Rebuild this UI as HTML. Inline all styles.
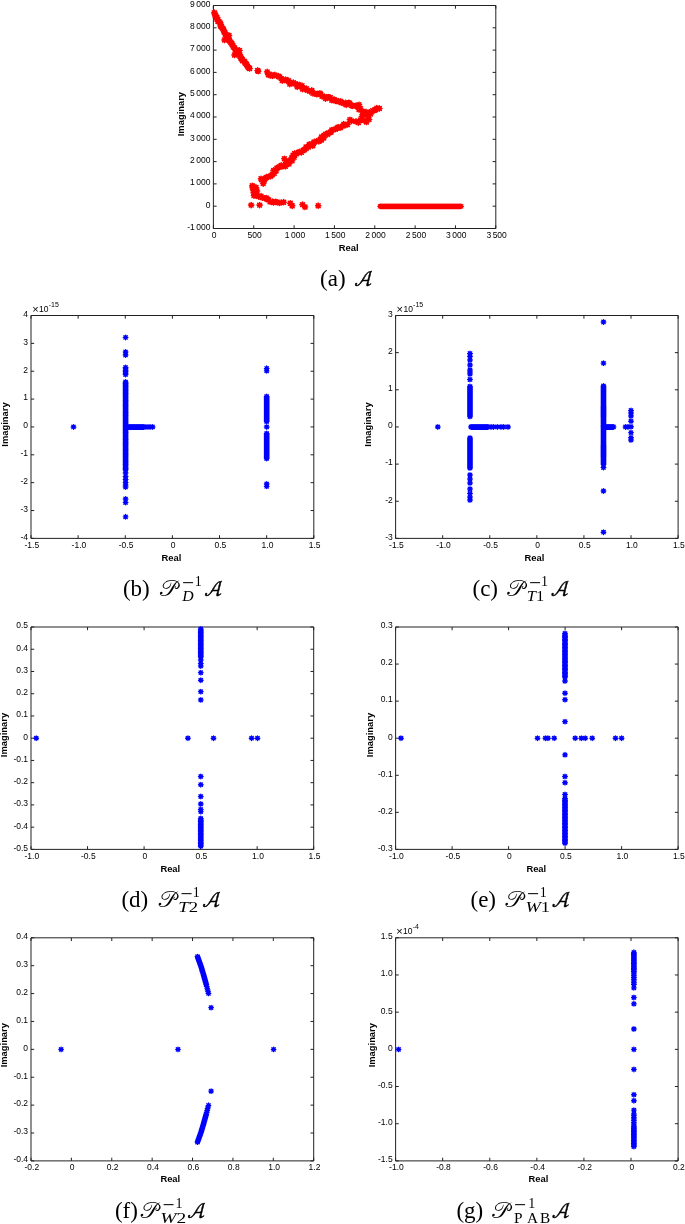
<!DOCTYPE html>
<html><head><meta charset="utf-8"><title>Eigenvalue plots</title>
<style>
html,body{margin:0;padding:0;background:#fff}
body{width:685px;height:1224px;overflow:hidden}
svg{display:block}
.t{font-family:"Liberation Sans",Arial,sans-serif;font-size:8.5px;fill:#000}
.t .sup{font-size:6.6px}
.lb{font-family:"Liberation Sans",Arial,sans-serif;font-size:9.4px;font-weight:bold;fill:#000}
.cap{font-family:"Liberation Serif",serif;font-size:22px;fill:#000}
.sm{font-size:15.5px}
</style></head><body>
<svg width="685" height="1224" viewBox="0 0 685 1224">
<defs><filter id="gb" x="0" y="0" width="100%" height="100%" filterUnits="userSpaceOnUse"><feGaussianBlur stdDeviation="0.3"/></filter></defs>
<rect width="685" height="1224" fill="#fff"/>
<g filter="url(#gb)">
<path d="M213.4 5.5H495.8V228.5H213.4Z" fill="none" stroke="#222" stroke-width="1"/>
<path d="M213.4 228.5v-3.2 M213.4 5.5v3.2 M253.74 228.5v-3.2 M253.74 5.5v3.2 M294.09 228.5v-3.2 M294.09 5.5v3.2 M334.43 228.5v-3.2 M334.43 5.5v3.2 M374.77 228.5v-3.2 M374.77 5.5v3.2 M415.11 228.5v-3.2 M415.11 5.5v3.2 M455.46 228.5v-3.2 M455.46 5.5v3.2 M495.8 228.5v-3.2 M495.8 5.5v3.2 M213.4 5.5h3.2 M495.8 5.5h-3.2 M213.4 27.8h3.2 M495.8 27.8h-3.2 M213.4 50.1h3.2 M495.8 50.1h-3.2 M213.4 72.4h3.2 M495.8 72.4h-3.2 M213.4 94.7h3.2 M495.8 94.7h-3.2 M213.4 117h3.2 M495.8 117h-3.2 M213.4 139.3h3.2 M495.8 139.3h-3.2 M213.4 161.6h3.2 M495.8 161.6h-3.2 M213.4 183.9h3.2 M495.8 183.9h-3.2 M213.4 206.2h3.2 M495.8 206.2h-3.2 M213.4 228.5h3.2 M495.8 228.5h-3.2 " stroke="#222" stroke-width="1" fill="none"/>
<text class="t" transform="translate(214.2 238.1) scale(1 1)" text-anchor="middle">0</text>
<text class="t" transform="translate(254.54 238.1) scale(1 1)" text-anchor="middle">500</text>
<text class="t" transform="translate(294.89 238.1) scale(1 1)" text-anchor="middle">1<tspan dx="1.5">000</tspan></text>
<text class="t" transform="translate(335.23 238.1) scale(1 1)" text-anchor="middle">1<tspan dx="1.5">500</tspan></text>
<text class="t" transform="translate(375.57 238.1) scale(1 1)" text-anchor="middle">2<tspan dx="1.5">000</tspan></text>
<text class="t" transform="translate(415.91 238.1) scale(1 1)" text-anchor="middle">2<tspan dx="1.5">500</tspan></text>
<text class="t" transform="translate(456.26 238.1) scale(1 1)" text-anchor="middle">3<tspan dx="1.5">000</tspan></text>
<text class="t" transform="translate(496.6 238.1) scale(1 1)" text-anchor="middle">3<tspan dx="1.5">500</tspan></text>
<text class="t" transform="translate(210.5 6.85) scale(1 1)" text-anchor="end">9<tspan dx="1.5">000</tspan></text>
<text class="t" transform="translate(210.5 29.15) scale(1 1)" text-anchor="end">8<tspan dx="1.5">000</tspan></text>
<text class="t" transform="translate(210.5 51.45) scale(1 1)" text-anchor="end">7<tspan dx="1.5">000</tspan></text>
<text class="t" transform="translate(210.5 73.75) scale(1 1)" text-anchor="end">6<tspan dx="1.5">000</tspan></text>
<text class="t" transform="translate(210.5 96.05) scale(1 1)" text-anchor="end">5<tspan dx="1.5">000</tspan></text>
<text class="t" transform="translate(210.5 118.35) scale(1 1)" text-anchor="end">4<tspan dx="1.5">000</tspan></text>
<text class="t" transform="translate(210.5 140.65) scale(1 1)" text-anchor="end">3<tspan dx="1.5">000</tspan></text>
<text class="t" transform="translate(210.5 162.95) scale(1 1)" text-anchor="end">2<tspan dx="1.5">000</tspan></text>
<text class="t" transform="translate(210.5 185.25) scale(1 1)" text-anchor="end">1<tspan dx="1.5">000</tspan></text>
<text class="t" transform="translate(210.5 207.55) scale(1 1)" text-anchor="end">0</text>
<text class="t" transform="translate(210.5 229.85) scale(1 1)" text-anchor="end">-1<tspan dx="1.5">000</tspan></text>
<text class="lb" x="348.7" y="250.9" text-anchor="middle">Real</text>
<text class="lb" transform="translate(184 114.1) rotate(-90)" text-anchor="middle">Imaginary</text>
<path d="M211.67 12.77h5.2 M214.27 10.17v5.2 M212.4 10.89l3.74 3.74 M212.4 14.64l3.74 -3.74M212.4 13.88h5.2 M215 11.28v5.2 M213.13 12.01l3.74 3.74 M213.13 15.75l3.74 -3.74M212.53 14.98h5.2 M215.13 12.38v5.2 M213.25 13.11l3.74 3.74 M213.25 16.85l3.74 -3.74M212.73 15.77h5.2 M215.33 13.17v5.2 M213.45 13.9l3.74 3.74 M213.45 17.64l3.74 -3.74M213.32 16.69h5.2 M215.92 14.09v5.2 M214.05 14.81l3.74 3.74 M214.05 18.56l3.74 -3.74M214.32 17.42h5.2 M216.92 14.82v5.2 M215.05 15.54l3.74 3.74 M215.05 19.29l3.74 -3.74M214.14 19.11h5.2 M216.74 16.51v5.2 M214.87 17.24l3.74 3.74 M214.87 20.99l3.74 -3.74M215.34 19.46h5.2 M217.94 16.86v5.2 M216.07 17.59l3.74 3.74 M216.07 21.33l3.74 -3.74M215.23 21.24h5.2 M217.83 18.64v5.2 M215.96 19.37l3.74 3.74 M215.96 23.11l3.74 -3.74M216.45 21.78h5.2 M219.05 19.18v5.2 M217.18 19.91l3.74 3.74 M217.18 23.65l3.74 -3.74M217.55 22.85h5.2 M220.15 20.25v5.2 M218.27 20.98l3.74 3.74 M218.27 24.73l3.74 -3.74M217.73 23.98h5.2 M220.33 21.38v5.2 M218.46 22.1l3.74 3.74 M218.46 25.85l3.74 -3.74M218.25 24.46h5.2 M220.85 21.86v5.2 M218.98 22.59l3.74 3.74 M218.98 26.34l3.74 -3.74M217.96 26.05h5.2 M220.56 23.45v5.2 M218.69 24.18l3.74 3.74 M218.69 27.92l3.74 -3.74M218.74 26.87h5.2 M221.34 24.27v5.2 M219.47 24.99l3.74 3.74 M219.47 28.74l3.74 -3.74M219.67 28.06h5.2 M222.27 25.46v5.2 M220.4 26.19l3.74 3.74 M220.4 29.94l3.74 -3.74M220.54 28.82h5.2 M223.14 26.22v5.2 M221.27 26.95l3.74 3.74 M221.27 30.69l3.74 -3.74M220.79 29.63h5.2 M223.39 27.03v5.2 M221.52 27.76l3.74 3.74 M221.52 31.5l3.74 -3.74M221.33 31.16h5.2 M223.93 28.56v5.2 M222.05 29.28l3.74 3.74 M222.05 33.03l3.74 -3.74M221.59 32.05h5.2 M224.19 29.45v5.2 M222.32 30.18l3.74 3.74 M222.32 33.92l3.74 -3.74M222.58 32.93h5.2 M225.18 30.33v5.2 M223.3 31.06l3.74 3.74 M223.3 34.8l3.74 -3.74M222.8 34.42h5.2 M225.4 31.82v5.2 M223.53 32.55l3.74 3.74 M223.53 36.29l3.74 -3.74M223.34 35h5.2 M225.94 32.4v5.2 M224.07 33.13l3.74 3.74 M224.07 36.87l3.74 -3.74M223.67 36.38h5.2 M226.27 33.78v5.2 M224.4 34.51l3.74 3.74 M224.4 38.25l3.74 -3.74M225.04 37.08h5.2 M227.64 34.48v5.2 M225.77 35.21l3.74 3.74 M225.77 38.95l3.74 -3.74M226.03 38.15h5.2 M228.63 35.55v5.2 M226.76 36.28l3.74 3.74 M226.76 40.02l3.74 -3.74M225.74 39.33h5.2 M228.34 36.73v5.2 M226.46 37.46l3.74 3.74 M226.46 41.2l3.74 -3.74M226.63 40h5.2 M229.23 37.4v5.2 M227.35 38.13l3.74 3.74 M227.35 41.87l3.74 -3.74M227.06 41.11h5.2 M229.66 38.51v5.2 M227.78 39.24l3.74 3.74 M227.78 42.98l3.74 -3.74M228.15 42.54h5.2 M230.75 39.94v5.2 M228.88 40.66l3.74 3.74 M228.88 44.41l3.74 -3.74M229.19 43.45h5.2 M231.79 40.85v5.2 M229.91 41.58l3.74 3.74 M229.91 45.32l3.74 -3.74M229.48 44.59h5.2 M232.08 41.99v5.2 M230.21 42.72l3.74 3.74 M230.21 46.46l3.74 -3.74M230.31 45.35h5.2 M232.91 42.75v5.2 M231.04 43.48l3.74 3.74 M231.04 47.22l3.74 -3.74M230.61 46.86h5.2 M233.21 44.26v5.2 M231.34 44.99l3.74 3.74 M231.34 48.73l3.74 -3.74M231.49 47.35h5.2 M234.09 44.75v5.2 M232.22 45.48l3.74 3.74 M232.22 49.23l3.74 -3.74M232 48.1h5.2 M234.6 45.5v5.2 M232.73 46.22l3.74 3.74 M232.73 49.97l3.74 -3.74M232.66 49.62h5.2 M235.26 47.02v5.2 M233.39 47.75l3.74 3.74 M233.39 51.49l3.74 -3.74M234.25 50.05h5.2 M236.85 47.45v5.2 M234.98 48.18l3.74 3.74 M234.98 51.93l3.74 -3.74M234.36 51.06h5.2 M236.96 48.46v5.2 M235.09 49.19l3.74 3.74 M235.09 52.93l3.74 -3.74M235.06 51.65h5.2 M237.66 49.05v5.2 M235.79 49.78l3.74 3.74 M235.79 53.52l3.74 -3.74M236.1 52.43h5.2 M238.7 49.83v5.2 M236.83 50.56l3.74 3.74 M236.83 54.3l3.74 -3.74M235.87 53.79h5.2 M238.47 51.19v5.2 M236.59 51.92l3.74 3.74 M236.59 55.67l3.74 -3.74M237.09 54.4h5.2 M239.69 51.8v5.2 M237.82 52.53l3.74 3.74 M237.82 56.28l3.74 -3.74M237.02 55.96h5.2 M239.62 53.36v5.2 M237.75 54.09l3.74 3.74 M237.75 57.83l3.74 -3.74M237.99 56.42h5.2 M240.59 53.82v5.2 M238.72 54.55l3.74 3.74 M238.72 58.3l3.74 -3.74M238.22 57.96h5.2 M240.82 55.36v5.2 M238.95 56.09l3.74 3.74 M238.95 59.83l3.74 -3.74M238.92 59.05h5.2 M241.52 56.45v5.2 M239.64 57.18l3.74 3.74 M239.64 60.92l3.74 -3.74M239.84 59.36h5.2 M242.44 56.76v5.2 M240.57 57.49l3.74 3.74 M240.57 61.23l3.74 -3.74M239.92 60.77h5.2 M242.52 58.17v5.2 M240.65 58.89l3.74 3.74 M240.65 62.64l3.74 -3.74M241.71 61.32h5.2 M244.31 58.72v5.2 M242.44 59.45l3.74 3.74 M242.44 63.19l3.74 -3.74M242.01 61.87h5.2 M244.61 59.27v5.2 M242.74 59.99l3.74 3.74 M242.74 63.74l3.74 -3.74M242.5 63.01h5.2 M245.1 60.41v5.2 M243.23 61.14l3.74 3.74 M243.23 64.88l3.74 -3.74M243.63 63.89h5.2 M246.23 61.29v5.2 M244.36 62.02l3.74 3.74 M244.36 65.76l3.74 -3.74M243.94 64.61h5.2 M246.54 62.01v5.2 M244.66 62.74l3.74 3.74 M244.66 66.48l3.74 -3.74M244.67 65.82h5.2 M247.27 63.22v5.2 M245.4 63.95l3.74 3.74 M245.4 67.69l3.74 -3.74M245.53 67.13h5.2 M248.13 64.53v5.2 M246.25 65.26l3.74 3.74 M246.25 69.01l3.74 -3.74M246.15 67.72h5.2 M248.75 65.12v5.2 M246.87 65.85l3.74 3.74 M246.87 69.6l3.74 -3.74M247 68.5h5.2 M249.6 65.9v5.2 M247.73 66.63l3.74 3.74 M247.73 70.37l3.74 -3.74M221.9 40h5.2 M224.5 37.4v5.2 M222.63 38.13l3.74 3.74 M222.63 41.87l3.74 -3.74M223.4 39h5.2 M226 36.4v5.2 M224.13 37.13l3.74 3.74 M224.13 40.87l3.74 -3.74M226.4 35.5h5.2 M229 32.9v5.2 M227.13 33.63l3.74 3.74 M227.13 37.37l3.74 -3.74M231.9 55h5.2 M234.5 52.4v5.2 M232.63 53.13l3.74 3.74 M232.63 56.87l3.74 -3.74M233.4 54h5.2 M236 51.4v5.2 M234.13 52.13l3.74 3.74 M234.13 55.87l3.74 -3.74M236.9 50.5h5.2 M239.5 47.9v5.2 M237.63 48.63l3.74 3.74 M237.63 52.37l3.74 -3.74M255.6 71.2h5.2 M258.2 68.6v5.2 M256.33 69.33l3.74 3.74 M256.33 73.07l3.74 -3.74M255 70.5h5.2 M257.6 67.9v5.2 M255.73 68.63l3.74 3.74 M255.73 72.37l3.74 -3.74M264.61 71.85h5.2 M267.21 69.25v5.2 M265.34 69.98l3.74 3.74 M265.34 73.72l3.74 -3.74M265.74 74.7h5.2 M268.34 72.1v5.2 M266.47 72.83l3.74 3.74 M266.47 76.57l3.74 -3.74M267.45 75.47h5.2 M270.05 72.87v5.2 M268.17 73.6l3.74 3.74 M268.17 77.34l3.74 -3.74M269 74.78h5.2 M271.6 72.18v5.2 M269.73 72.91l3.74 3.74 M269.73 76.65l3.74 -3.74M270.08 75.93h5.2 M272.68 73.33v5.2 M270.81 74.06l3.74 3.74 M270.81 77.81l3.74 -3.74M272.24 74.93h5.2 M274.84 72.33v5.2 M272.96 73.06l3.74 3.74 M272.96 76.8l3.74 -3.74M273.88 75.85h5.2 M276.48 73.25v5.2 M274.6 73.97l3.74 3.74 M274.6 77.72l3.74 -3.74M275.76 76.19h5.2 M278.36 73.59v5.2 M276.49 74.32l3.74 3.74 M276.49 78.07l3.74 -3.74M277.03 77.06h5.2 M279.63 74.46v5.2 M277.76 75.18l3.74 3.74 M277.76 78.93l3.74 -3.74M278.62 78.43h5.2 M281.22 75.83v5.2 M279.35 76.55l3.74 3.74 M279.35 80.3l3.74 -3.74M279.69 80.54h5.2 M282.29 77.94v5.2 M280.41 78.67l3.74 3.74 M280.41 82.41l3.74 -3.74M282.89 79.54h5.2 M285.49 76.94v5.2 M283.62 77.67l3.74 3.74 M283.62 81.41l3.74 -3.74M284.02 80.68h5.2 M286.62 78.08v5.2 M284.75 78.8l3.74 3.74 M284.75 82.55l3.74 -3.74M286.04 80.75h5.2 M288.64 78.15v5.2 M286.77 78.88l3.74 3.74 M286.77 82.63l3.74 -3.74M287.22 84.03h5.2 M289.82 81.43v5.2 M287.95 82.16l3.74 3.74 M287.95 85.9l3.74 -3.74M289.06 83.12h5.2 M291.66 80.52v5.2 M289.79 81.25l3.74 3.74 M289.79 84.99l3.74 -3.74M290.77 82.57h5.2 M293.37 79.97v5.2 M291.5 80.7l3.74 3.74 M291.5 84.44l3.74 -3.74M292.51 83.78h5.2 M295.11 81.18v5.2 M293.24 81.91l3.74 3.74 M293.24 85.66l3.74 -3.74M294.69 84.32h5.2 M297.29 81.72v5.2 M295.42 82.45l3.74 3.74 M295.42 86.2l3.74 -3.74M294.64 86.85h5.2 M297.24 84.25v5.2 M295.37 84.98l3.74 3.74 M295.37 88.73l3.74 -3.74M297.62 85.45h5.2 M300.22 82.85v5.2 M298.35 83.57l3.74 3.74 M298.35 87.32l3.74 -3.74M299.37 85.76h5.2 M301.97 83.16v5.2 M300.1 83.89l3.74 3.74 M300.1 87.63l3.74 -3.74M299.9 89.04h5.2 M302.5 86.44v5.2 M300.62 87.17l3.74 3.74 M300.62 90.92l3.74 -3.74M302.31 89.1h5.2 M304.91 86.5v5.2 M303.04 87.23l3.74 3.74 M303.04 90.97l3.74 -3.74M303.8 88.63h5.2 M306.4 86.03v5.2 M304.53 86.76l3.74 3.74 M304.53 90.5l3.74 -3.74M305 90.42h5.2 M307.6 87.82v5.2 M305.73 88.55l3.74 3.74 M305.73 92.29l3.74 -3.74M307.1 91.28h5.2 M309.7 88.68v5.2 M307.82 89.41l3.74 3.74 M307.82 93.15l3.74 -3.74M309.17 90.37h5.2 M311.77 87.77v5.2 M309.9 88.5l3.74 3.74 M309.9 92.24l3.74 -3.74M310.32 93.36h5.2 M312.92 90.76v5.2 M311.04 91.49l3.74 3.74 M311.04 95.24l3.74 -3.74M312.17 93.59h5.2 M314.77 90.99v5.2 M312.9 91.72l3.74 3.74 M312.9 95.46l3.74 -3.74M313.82 94.09h5.2 M316.42 91.49v5.2 M314.55 92.22l3.74 3.74 M314.55 95.96l3.74 -3.74M315.13 93.94h5.2 M317.73 91.34v5.2 M315.86 92.07l3.74 3.74 M315.86 95.81l3.74 -3.74M317.33 93.3h5.2 M319.93 90.7v5.2 M318.06 91.43l3.74 3.74 M318.06 95.17l3.74 -3.74M318.24 94.51h5.2 M320.84 91.91v5.2 M318.97 92.64l3.74 3.74 M318.97 96.38l3.74 -3.74M319.45 96.39h5.2 M322.05 93.79v5.2 M320.18 94.51l3.74 3.74 M320.18 98.26l3.74 -3.74M321.88 96.58h5.2 M324.48 93.98v5.2 M322.61 94.71l3.74 3.74 M322.61 98.45l3.74 -3.74M323 98.61h5.2 M325.6 96.01v5.2 M323.73 96.74l3.74 3.74 M323.73 100.48l3.74 -3.74M325.15 97.3h5.2 M327.75 94.7v5.2 M325.88 95.43l3.74 3.74 M325.88 99.17l3.74 -3.74M326.17 97.17h5.2 M328.77 94.57v5.2 M326.9 95.3l3.74 3.74 M326.9 99.05l3.74 -3.74M327.76 97.58h5.2 M330.36 94.98v5.2 M328.49 95.71l3.74 3.74 M328.49 99.46l3.74 -3.74M329.21 100.19h5.2 M331.81 97.59v5.2 M329.94 98.32l3.74 3.74 M329.94 102.07l3.74 -3.74M331.46 99.49h5.2 M334.06 96.89v5.2 M332.19 97.62l3.74 3.74 M332.19 101.37l3.74 -3.74M332.72 100.83h5.2 M335.32 98.23v5.2 M333.45 98.96l3.74 3.74 M333.45 102.7l3.74 -3.74M333.95 100.73h5.2 M336.55 98.13v5.2 M334.68 98.86l3.74 3.74 M334.68 102.6l3.74 -3.74M336.4 101.77h5.2 M339 99.17v5.2 M337.12 99.9l3.74 3.74 M337.12 103.64l3.74 -3.74M338.15 101.32h5.2 M340.75 98.72v5.2 M338.88 99.45l3.74 3.74 M338.88 103.19l3.74 -3.74M338.84 102.56h5.2 M341.44 99.96v5.2 M339.56 100.69l3.74 3.74 M339.56 104.43l3.74 -3.74M340.49 103.19h5.2 M343.09 100.59v5.2 M341.22 101.32l3.74 3.74 M341.22 105.07l3.74 -3.74M343.01 102.81h5.2 M345.61 100.21v5.2 M343.74 100.94l3.74 3.74 M343.74 104.68l3.74 -3.74M343.62 104.79h5.2 M346.22 102.19v5.2 M344.35 102.92l3.74 3.74 M344.35 106.66l3.74 -3.74M346.05 102.93h5.2 M348.65 100.33v5.2 M346.78 101.06l3.74 3.74 M346.78 104.8l3.74 -3.74M347.11 103.1h5.2 M349.71 100.5v5.2 M347.83 101.23l3.74 3.74 M347.83 104.97l3.74 -3.74M349.08 105.53h5.2 M351.68 102.93v5.2 M349.8 103.66l3.74 3.74 M349.8 107.41l3.74 -3.74M349.89 105.76h5.2 M352.49 103.16v5.2 M350.62 103.89l3.74 3.74 M350.62 107.63l3.74 -3.74M352.66 105.92h5.2 M355.26 103.32v5.2 M353.39 104.04l3.74 3.74 M353.39 107.79l3.74 -3.74M353.84 105.87h5.2 M356.44 103.27v5.2 M354.57 104l3.74 3.74 M354.57 107.74l3.74 -3.74M356.4 104.78h5.2 M359 102.18v5.2 M357.12 102.91l3.74 3.74 M357.12 106.66l3.74 -3.74M357.62 108.4h5.2 M360.22 105.8v5.2 M358.35 106.52l3.74 3.74 M358.35 110.27l3.74 -3.74M358.25 110.09h5.2 M360.85 107.49v5.2 M358.98 108.21l3.74 3.74 M358.98 111.96l3.74 -3.74M359.93 111.37h5.2 M362.53 108.77v5.2 M360.66 109.49l3.74 3.74 M360.66 113.24l3.74 -3.74M363.38 112.02h5.2 M365.98 109.42v5.2 M364.11 110.15l3.74 3.74 M364.11 113.89l3.74 -3.74M363.7 114.1h5.2 M366.3 111.5v5.2 M364.43 112.23l3.74 3.74 M364.43 115.97l3.74 -3.74M363.29 113.94h5.2 M365.89 111.34v5.2 M364.02 112.07l3.74 3.74 M364.02 115.81l3.74 -3.74M365.23 113.46h5.2 M367.83 110.86v5.2 M365.96 111.59l3.74 3.74 M365.96 115.33l3.74 -3.74M366.86 112.31h5.2 M369.46 109.71v5.2 M367.58 110.44l3.74 3.74 M367.58 114.19l3.74 -3.74M368.95 112.14h5.2 M371.55 109.54v5.2 M369.68 110.27l3.74 3.74 M369.68 114.01l3.74 -3.74M370.07 110.59h5.2 M372.67 107.99v5.2 M370.8 108.72l3.74 3.74 M370.8 112.46l3.74 -3.74M371.96 110.26h5.2 M374.56 107.66v5.2 M372.69 108.39l3.74 3.74 M372.69 112.13l3.74 -3.74M373.17 109.53h5.2 M375.77 106.93v5.2 M373.89 107.66l3.74 3.74 M373.89 111.4l3.74 -3.74M374.19 108.15h5.2 M376.79 105.55v5.2 M374.92 106.28l3.74 3.74 M374.92 110.02l3.74 -3.74M376.8 108.5h5.2 M379.4 105.9v5.2 M377.53 106.63l3.74 3.74 M377.53 110.37l3.74 -3.74M359.4 116.5h5.2 M362 113.9v5.2 M360.13 114.63l3.74 3.74 M360.13 118.37l3.74 -3.74M357.9 120h5.2 M360.5 117.4v5.2 M358.63 118.13l3.74 3.74 M358.63 121.87l3.74 -3.74M361.4 120.5h5.2 M364 117.9v5.2 M362.13 118.63l3.74 3.74 M362.13 122.37l3.74 -3.74M363.9 122h5.2 M366.5 119.4v5.2 M364.63 120.13l3.74 3.74 M364.63 123.87l3.74 -3.74M355.8 122.6h5.2 M358.4 120v5.2 M356.53 120.73l3.74 3.74 M356.53 124.47l3.74 -3.74M353.4 121.5h5.2 M356 118.9v5.2 M354.13 119.63l3.74 3.74 M354.13 123.37l3.74 -3.74M365.4 117h5.2 M368 114.4v5.2 M366.13 115.13l3.74 3.74 M366.13 118.87l3.74 -3.74M367.9 114h5.2 M370.5 111.4v5.2 M368.63 112.13l3.74 3.74 M368.63 115.87l3.74 -3.74M360.4 112h5.2 M363 109.4v5.2 M361.13 110.13l3.74 3.74 M361.13 113.87l3.74 -3.74M356.4 109.5h5.2 M359 106.9v5.2 M357.13 107.63l3.74 3.74 M357.13 111.37l3.74 -3.74M366.4 119.5h5.2 M369 116.9v5.2 M367.13 117.63l3.74 3.74 M367.13 121.37l3.74 -3.74M347.3 119.8h5.2 M349.9 117.2v5.2 M348.03 117.93l3.74 3.74 M348.03 121.67l3.74 -3.74M348.9 121h5.2 M351.5 118.4v5.2 M349.63 119.13l3.74 3.74 M349.63 122.87l3.74 -3.74M344.9 124.45h5.2 M347.5 121.85v5.2 M345.63 122.58l3.74 3.74 M345.63 126.32l3.74 -3.74M343.3 124.98h5.2 M345.9 122.38v5.2 M344.03 123.11l3.74 3.74 M344.03 126.85l3.74 -3.74M341.16 124.15h5.2 M343.76 121.55v5.2 M341.88 122.27l3.74 3.74 M341.88 126.02l3.74 -3.74M340.3 125.97h5.2 M342.9 123.37v5.2 M341.03 124.09l3.74 3.74 M341.03 127.84l3.74 -3.74M338.42 126.9h5.2 M341.02 124.3v5.2 M339.15 125.03l3.74 3.74 M339.15 128.77l3.74 -3.74M337.57 127.71h5.2 M340.17 125.11v5.2 M338.3 125.84l3.74 3.74 M338.3 129.58l3.74 -3.74M335.44 127.25h5.2 M338.04 124.65v5.2 M336.17 125.38l3.74 3.74 M336.17 129.12l3.74 -3.74M334.31 128.2h5.2 M336.91 125.6v5.2 M335.03 126.33l3.74 3.74 M335.03 130.07l3.74 -3.74M332.82 129.22h5.2 M335.42 126.62v5.2 M333.55 127.35l3.74 3.74 M333.55 131.09l3.74 -3.74M330.79 129.87h5.2 M333.39 127.27v5.2 M331.52 127.99l3.74 3.74 M331.52 131.74l3.74 -3.74M329.24 130.04h5.2 M331.84 127.44v5.2 M329.97 128.17l3.74 3.74 M329.97 131.92l3.74 -3.74M328.41 131.97h5.2 M331.01 129.37v5.2 M329.14 130.1l3.74 3.74 M329.14 133.85l3.74 -3.74M327.31 132.58h5.2 M329.91 129.98v5.2 M328.04 130.71l3.74 3.74 M328.04 134.45l3.74 -3.74M325.81 132.99h5.2 M328.41 130.39v5.2 M326.54 131.11l3.74 3.74 M326.54 134.86l3.74 -3.74M324.98 134.29h5.2 M327.58 131.69v5.2 M325.7 132.41l3.74 3.74 M325.7 136.16l3.74 -3.74M322.89 134.15h5.2 M325.49 131.55v5.2 M323.62 132.28l3.74 3.74 M323.62 136.02l3.74 -3.74M321.51 135.36h5.2 M324.11 132.76v5.2 M322.24 133.49l3.74 3.74 M322.24 137.23l3.74 -3.74M321.13 138.04h5.2 M323.73 135.44v5.2 M321.86 136.16l3.74 3.74 M321.86 139.91l3.74 -3.74M318.86 136.95h5.2 M321.46 134.35v5.2 M319.59 135.08l3.74 3.74 M319.59 138.82l3.74 -3.74M318.74 140.17h5.2 M321.34 137.57v5.2 M319.47 138.3l3.74 3.74 M319.47 142.04l3.74 -3.74M317.36 139.91h5.2 M319.96 137.31v5.2 M318.09 138.04l3.74 3.74 M318.09 141.78l3.74 -3.74M316.28 141.4h5.2 M318.88 138.8v5.2 M317.01 139.53l3.74 3.74 M317.01 143.27l3.74 -3.74M314.04 141.24h5.2 M316.64 138.64v5.2 M314.77 139.36l3.74 3.74 M314.77 143.11l3.74 -3.74M311.53 142.03h5.2 M314.13 139.43v5.2 M312.25 140.16l3.74 3.74 M312.25 143.9l3.74 -3.74M310.92 143.14h5.2 M313.52 140.54v5.2 M311.65 141.27l3.74 3.74 M311.65 145.02l3.74 -3.74M310.13 145.73h5.2 M312.73 143.13v5.2 M310.86 143.86l3.74 3.74 M310.86 147.6l3.74 -3.74M307.31 144.32h5.2 M309.91 141.72v5.2 M308.04 142.44l3.74 3.74 M308.04 146.19l3.74 -3.74M306.54 144.82h5.2 M309.14 142.22v5.2 M307.27 142.95l3.74 3.74 M307.27 146.69l3.74 -3.74M305.83 146.96h5.2 M308.43 144.36v5.2 M306.56 145.08l3.74 3.74 M306.56 148.83l3.74 -3.74M303.49 147.04h5.2 M306.09 144.44v5.2 M304.22 145.17l3.74 3.74 M304.22 148.91l3.74 -3.74M303.52 148.53h5.2 M306.12 145.93v5.2 M304.25 146.66l3.74 3.74 M304.25 150.41l3.74 -3.74M301.74 149.77h5.2 M304.34 147.17v5.2 M302.47 147.89l3.74 3.74 M302.47 151.64l3.74 -3.74M300.49 150.47h5.2 M303.09 147.87v5.2 M301.22 148.6l3.74 3.74 M301.22 152.34l3.74 -3.74M298.84 152.38h5.2 M301.44 149.78v5.2 M299.57 150.51l3.74 3.74 M299.57 154.25l3.74 -3.74M296.81 151.9h5.2 M299.41 149.3v5.2 M297.54 150.02l3.74 3.74 M297.54 153.77l3.74 -3.74M295.92 152.53h5.2 M298.52 149.93v5.2 M296.65 150.65l3.74 3.74 M296.65 154.4l3.74 -3.74M293.94 153.76h5.2 M296.54 151.16v5.2 M294.66 151.89l3.74 3.74 M294.66 155.63l3.74 -3.74M292.08 153.51h5.2 M294.68 150.91v5.2 M292.81 151.64l3.74 3.74 M292.81 155.38l3.74 -3.74M290.46 155.26h5.2 M293.06 152.66v5.2 M291.19 153.39l3.74 3.74 M291.19 157.14l3.74 -3.74M291.46 157.41h5.2 M294.06 154.81v5.2 M292.19 155.54l3.74 3.74 M292.19 159.28l3.74 -3.74M289.09 157.81h5.2 M291.69 155.21v5.2 M289.82 155.94l3.74 3.74 M289.82 159.68l3.74 -3.74M289.5 160.72h5.2 M292.1 158.12v5.2 M290.22 158.84l3.74 3.74 M290.22 162.59l3.74 -3.74M286.3 160.79h5.2 M288.9 158.19v5.2 M287.03 158.91l3.74 3.74 M287.03 162.66l3.74 -3.74M286.27 163.93h5.2 M288.87 161.33v5.2 M287 162.06l3.74 3.74 M287 165.8l3.74 -3.74M284.44 162.49h5.2 M287.04 159.89v5.2 M285.17 160.62l3.74 3.74 M285.17 164.36l3.74 -3.74M282.93 164.04h5.2 M285.53 161.44v5.2 M283.66 162.17l3.74 3.74 M283.66 165.91l3.74 -3.74M282.82 166.4h5.2 M285.42 163.8v5.2 M283.55 164.53l3.74 3.74 M283.55 168.27l3.74 -3.74M280.3 166.36h5.2 M282.9 163.76v5.2 M281.03 164.48l3.74 3.74 M281.03 168.23l3.74 -3.74M278.53 165.38h5.2 M281.13 162.78v5.2 M279.26 163.51l3.74 3.74 M279.26 167.25l3.74 -3.74M276.82 166.95h5.2 M279.42 164.35v5.2 M277.55 165.08l3.74 3.74 M277.55 168.82l3.74 -3.74M275.76 167.41h5.2 M278.36 164.81v5.2 M276.49 165.53l3.74 3.74 M276.49 169.28l3.74 -3.74M274.31 168.28h5.2 M276.91 165.68v5.2 M275.04 166.41l3.74 3.74 M275.04 170.15l3.74 -3.74M273.47 170.76h5.2 M276.07 168.16v5.2 M274.2 168.89l3.74 3.74 M274.2 172.63l3.74 -3.74M270.99 170.42h5.2 M273.59 167.82v5.2 M271.72 168.55l3.74 3.74 M271.72 172.29l3.74 -3.74M271.68 173.2h5.2 M274.28 170.6v5.2 M272.41 171.32l3.74 3.74 M272.41 175.07l3.74 -3.74M270.09 174.11h5.2 M272.69 171.51v5.2 M270.82 172.24l3.74 3.74 M270.82 175.98l3.74 -3.74M269.36 175.06h5.2 M271.96 172.46v5.2 M270.09 173.19l3.74 3.74 M270.09 176.93l3.74 -3.74M267.9 176.27h5.2 M270.5 173.67v5.2 M268.63 174.4l3.74 3.74 M268.63 178.14l3.74 -3.74M266.12 176.53h5.2 M268.72 173.93v5.2 M266.84 174.66l3.74 3.74 M266.84 178.41l3.74 -3.74M264.29 177.21h5.2 M266.89 174.61v5.2 M265.02 175.34l3.74 3.74 M265.02 179.09l3.74 -3.74M263.19 177.97h5.2 M265.79 175.37v5.2 M263.91 176.1l3.74 3.74 M263.91 179.85l3.74 -3.74M262.04 178.91h5.2 M264.64 176.31v5.2 M262.76 177.04l3.74 3.74 M262.76 180.78l3.74 -3.74M260.67 179.39h5.2 M263.27 176.79v5.2 M261.4 177.52l3.74 3.74 M261.4 181.26l3.74 -3.74M258.45 178.8h5.2 M261.05 176.2v5.2 M259.17 176.93l3.74 3.74 M259.17 180.67l3.74 -3.74M259.14 179.85h5.2 M261.74 177.25v5.2 M259.87 177.98l3.74 3.74 M259.87 181.72l3.74 -3.74M261.25 181.86h5.2 M263.85 179.26v5.2 M261.98 179.99l3.74 3.74 M261.98 183.74l3.74 -3.74M260.6 183.6h5.2 M263.2 181v5.2 M261.33 181.73l3.74 3.74 M261.33 185.47l3.74 -3.74M281.8 158.8h5.2 M284.4 156.2v5.2 M282.53 156.93l3.74 3.74 M282.53 160.67l3.74 -3.74M249.7 185.8h5.2 M252.3 183.2v5.2 M250.43 183.93l3.74 3.74 M250.43 187.67l3.74 -3.74M250.4 188h5.2 M253 185.4v5.2 M251.13 186.13l3.74 3.74 M251.13 189.87l3.74 -3.74M253.4 187.5h5.2 M256 184.9v5.2 M254.13 185.63l3.74 3.74 M254.13 189.37l3.74 -3.74M254.4 191h5.2 M257 188.4v5.2 M255.13 189.13l3.74 3.74 M255.13 192.87l3.74 -3.74M252.9 194h5.2 M255.5 191.4v5.2 M253.63 192.13l3.74 3.74 M253.63 195.87l3.74 -3.74M249.94 186.08h5.2 M252.54 183.48v5.2 M250.67 184.21l3.74 3.74 M250.67 187.95l3.74 -3.74M249.94 187.71h5.2 M252.54 185.11v5.2 M250.67 185.83l3.74 3.74 M250.67 189.58l3.74 -3.74M251.11 189.1h5.2 M253.71 186.5v5.2 M251.84 187.22l3.74 3.74 M251.84 190.97l3.74 -3.74M251.1 191.03h5.2 M253.7 188.43v5.2 M251.83 189.15l3.74 3.74 M251.83 192.9l3.74 -3.74M251.06 192.81h5.2 M253.66 190.21v5.2 M251.79 190.94l3.74 3.74 M251.79 194.68l3.74 -3.74M251.39 195.56h5.2 M253.99 192.96v5.2 M252.11 193.69l3.74 3.74 M252.11 197.43l3.74 -3.74M252.97 195.39h5.2 M255.57 192.79v5.2 M253.69 193.52l3.74 3.74 M253.69 197.26l3.74 -3.74M254.47 195.32h5.2 M257.07 192.72v5.2 M255.2 193.45l3.74 3.74 M255.2 197.2l3.74 -3.74M256.13 196.64h5.2 M258.73 194.04v5.2 M256.86 194.77l3.74 3.74 M256.86 198.51l3.74 -3.74M258.43 196.1h5.2 M261.03 193.5v5.2 M259.16 194.23l3.74 3.74 M259.16 197.98l3.74 -3.74M259.59 197.67h5.2 M262.19 195.07v5.2 M260.32 195.79l3.74 3.74 M260.32 199.54l3.74 -3.74M262.19 198.29h5.2 M264.79 195.69v5.2 M262.92 196.42l3.74 3.74 M262.92 200.16l3.74 -3.74M263.63 198.03h5.2 M266.23 195.43v5.2 M264.35 196.16l3.74 3.74 M264.35 199.91l3.74 -3.74M264.89 199.2h5.2 M267.49 196.6v5.2 M265.62 197.33l3.74 3.74 M265.62 201.08l3.74 -3.74M266.22 199.98h5.2 M268.82 197.38v5.2 M266.94 198.11l3.74 3.74 M266.94 201.85l3.74 -3.74M267.5 201.77h5.2 M270.1 199.17v5.2 M268.23 199.9l3.74 3.74 M268.23 203.64l3.74 -3.74M270.14 201.64h5.2 M272.74 199.04v5.2 M270.87 199.76l3.74 3.74 M270.87 203.51l3.74 -3.74M271 202.49h5.2 M273.6 199.89v5.2 M271.73 200.62l3.74 3.74 M271.73 204.37l3.74 -3.74M273.02 201.91h5.2 M275.62 199.31v5.2 M273.75 200.04l3.74 3.74 M273.75 203.79l3.74 -3.74M274.45 202.25h5.2 M277.05 199.65v5.2 M275.18 200.37l3.74 3.74 M275.18 204.12l3.74 -3.74M276.67 202.91h5.2 M279.27 200.31v5.2 M277.4 201.04l3.74 3.74 M277.4 204.78l3.74 -3.74M278.51 202.62h5.2 M281.11 200.02v5.2 M279.23 200.75l3.74 3.74 M279.23 204.49l3.74 -3.74M281.1 202.2h5.2 M283.7 199.6v5.2 M281.83 200.33l3.74 3.74 M281.83 204.07l3.74 -3.74M248.6 205.1h5.2 M251.2 202.5v5.2 M249.33 203.23l3.74 3.74 M249.33 206.97l3.74 -3.74M257 205.1h5.2 M259.6 202.5v5.2 M257.73 203.23l3.74 3.74 M257.73 206.97l3.74 -3.74M287.7 203.3h5.2 M290.3 200.7v5.2 M288.43 201.43l3.74 3.74 M288.43 205.17l3.74 -3.74M289.6 205.8h5.2 M292.2 203.2v5.2 M290.33 203.93l3.74 3.74 M290.33 207.67l3.74 -3.74M299.9 204.6h5.2 M302.5 202v5.2 M300.63 202.73l3.74 3.74 M300.63 206.47l3.74 -3.74M302.4 207h5.2 M305 204.4v5.2 M303.13 205.13l3.74 3.74 M303.13 208.87l3.74 -3.74M315.6 205.7h5.2 M318.2 203.1v5.2 M316.33 203.83l3.74 3.74 M316.33 207.57l3.74 -3.74" stroke="#ff0000" stroke-width="1.6" stroke-linecap="round" fill="none"/>
<path d="M377.8 206.3h4.4 M380 204.1v4.4 M378.42 204.72l3.17 3.17 M378.42 207.88l3.17 -3.17M378.6 206.3h4.4 M380.8 204.1v4.4 M379.22 204.72l3.17 3.17 M379.22 207.88l3.17 -3.17M379.41 206.3h4.4 M381.61 204.1v4.4 M380.02 204.72l3.17 3.17 M380.02 207.88l3.17 -3.17M380.21 206.3h4.4 M382.41 204.1v4.4 M380.83 204.72l3.17 3.17 M380.83 207.88l3.17 -3.17M381.02 206.3h4.4 M383.22 204.1v4.4 M381.63 204.72l3.17 3.17 M381.63 207.88l3.17 -3.17M381.82 206.3h4.4 M384.02 204.1v4.4 M382.44 204.72l3.17 3.17 M382.44 207.88l3.17 -3.17M382.62 206.3h4.4 M384.82 204.1v4.4 M383.24 204.72l3.17 3.17 M383.24 207.88l3.17 -3.17M383.43 206.3h4.4 M385.63 204.1v4.4 M384.04 204.72l3.17 3.17 M384.04 207.88l3.17 -3.17M384.23 206.3h4.4 M386.43 204.1v4.4 M384.85 204.72l3.17 3.17 M384.85 207.88l3.17 -3.17M385.04 206.3h4.4 M387.24 204.1v4.4 M385.65 204.72l3.17 3.17 M385.65 207.88l3.17 -3.17M385.84 206.3h4.4 M388.04 204.1v4.4 M386.46 204.72l3.17 3.17 M386.46 207.88l3.17 -3.17M386.64 206.3h4.4 M388.84 204.1v4.4 M387.26 204.72l3.17 3.17 M387.26 207.88l3.17 -3.17M387.45 206.3h4.4 M389.65 204.1v4.4 M388.06 204.72l3.17 3.17 M388.06 207.88l3.17 -3.17M388.25 206.3h4.4 M390.45 204.1v4.4 M388.87 204.72l3.17 3.17 M388.87 207.88l3.17 -3.17M389.06 206.3h4.4 M391.26 204.1v4.4 M389.67 204.72l3.17 3.17 M389.67 207.88l3.17 -3.17M389.86 206.3h4.4 M392.06 204.1v4.4 M390.48 204.72l3.17 3.17 M390.48 207.88l3.17 -3.17M390.66 206.3h4.4 M392.86 204.1v4.4 M391.28 204.72l3.17 3.17 M391.28 207.88l3.17 -3.17M391.47 206.3h4.4 M393.67 204.1v4.4 M392.08 204.72l3.17 3.17 M392.08 207.88l3.17 -3.17M392.27 206.3h4.4 M394.47 204.1v4.4 M392.89 204.72l3.17 3.17 M392.89 207.88l3.17 -3.17M393.08 206.3h4.4 M395.28 204.1v4.4 M393.69 204.72l3.17 3.17 M393.69 207.88l3.17 -3.17M393.88 206.3h4.4 M396.08 204.1v4.4 M394.5 204.72l3.17 3.17 M394.5 207.88l3.17 -3.17M394.68 206.3h4.4 M396.88 204.1v4.4 M395.3 204.72l3.17 3.17 M395.3 207.88l3.17 -3.17M395.49 206.3h4.4 M397.69 204.1v4.4 M396.1 204.72l3.17 3.17 M396.1 207.88l3.17 -3.17M396.29 206.3h4.4 M398.49 204.1v4.4 M396.91 204.72l3.17 3.17 M396.91 207.88l3.17 -3.17M397.1 206.3h4.4 M399.3 204.1v4.4 M397.71 204.72l3.17 3.17 M397.71 207.88l3.17 -3.17M397.9 206.3h4.4 M400.1 204.1v4.4 M398.52 204.72l3.17 3.17 M398.52 207.88l3.17 -3.17M398.7 206.3h4.4 M400.9 204.1v4.4 M399.32 204.72l3.17 3.17 M399.32 207.88l3.17 -3.17M399.51 206.3h4.4 M401.71 204.1v4.4 M400.12 204.72l3.17 3.17 M400.12 207.88l3.17 -3.17M400.31 206.3h4.4 M402.51 204.1v4.4 M400.93 204.72l3.17 3.17 M400.93 207.88l3.17 -3.17M401.11 206.3h4.4 M403.31 204.1v4.4 M401.73 204.72l3.17 3.17 M401.73 207.88l3.17 -3.17M401.92 206.3h4.4 M404.12 204.1v4.4 M402.53 204.72l3.17 3.17 M402.53 207.88l3.17 -3.17M402.72 206.3h4.4 M404.92 204.1v4.4 M403.34 204.72l3.17 3.17 M403.34 207.88l3.17 -3.17M403.53 206.3h4.4 M405.73 204.1v4.4 M404.14 204.72l3.17 3.17 M404.14 207.88l3.17 -3.17M404.33 206.3h4.4 M406.53 204.1v4.4 M404.95 204.72l3.17 3.17 M404.95 207.88l3.17 -3.17M405.13 206.3h4.4 M407.33 204.1v4.4 M405.75 204.72l3.17 3.17 M405.75 207.88l3.17 -3.17M405.94 206.3h4.4 M408.14 204.1v4.4 M406.55 204.72l3.17 3.17 M406.55 207.88l3.17 -3.17M406.74 206.3h4.4 M408.94 204.1v4.4 M407.36 204.72l3.17 3.17 M407.36 207.88l3.17 -3.17M407.55 206.3h4.4 M409.75 204.1v4.4 M408.16 204.72l3.17 3.17 M408.16 207.88l3.17 -3.17M408.35 206.3h4.4 M410.55 204.1v4.4 M408.97 204.72l3.17 3.17 M408.97 207.88l3.17 -3.17M409.15 206.3h4.4 M411.35 204.1v4.4 M409.77 204.72l3.17 3.17 M409.77 207.88l3.17 -3.17M409.96 206.3h4.4 M412.16 204.1v4.4 M410.57 204.72l3.17 3.17 M410.57 207.88l3.17 -3.17M410.76 206.3h4.4 M412.96 204.1v4.4 M411.38 204.72l3.17 3.17 M411.38 207.88l3.17 -3.17M411.57 206.3h4.4 M413.77 204.1v4.4 M412.18 204.72l3.17 3.17 M412.18 207.88l3.17 -3.17M412.37 206.3h4.4 M414.57 204.1v4.4 M412.99 204.72l3.17 3.17 M412.99 207.88l3.17 -3.17M413.17 206.3h4.4 M415.37 204.1v4.4 M413.79 204.72l3.17 3.17 M413.79 207.88l3.17 -3.17M413.98 206.3h4.4 M416.18 204.1v4.4 M414.59 204.72l3.17 3.17 M414.59 207.88l3.17 -3.17M414.78 206.3h4.4 M416.98 204.1v4.4 M415.4 204.72l3.17 3.17 M415.4 207.88l3.17 -3.17M415.59 206.3h4.4 M417.79 204.1v4.4 M416.2 204.72l3.17 3.17 M416.2 207.88l3.17 -3.17M416.39 206.3h4.4 M418.59 204.1v4.4 M417.01 204.72l3.17 3.17 M417.01 207.88l3.17 -3.17M417.19 206.3h4.4 M419.39 204.1v4.4 M417.81 204.72l3.17 3.17 M417.81 207.88l3.17 -3.17M418 206.3h4.4 M420.2 204.1v4.4 M418.61 204.72l3.17 3.17 M418.61 207.88l3.17 -3.17M418.8 206.3h4.4 M421 204.1v4.4 M419.42 204.72l3.17 3.17 M419.42 207.88l3.17 -3.17M419.61 206.3h4.4 M421.81 204.1v4.4 M420.22 204.72l3.17 3.17 M420.22 207.88l3.17 -3.17M420.41 206.3h4.4 M422.61 204.1v4.4 M421.03 204.72l3.17 3.17 M421.03 207.88l3.17 -3.17M421.21 206.3h4.4 M423.41 204.1v4.4 M421.83 204.72l3.17 3.17 M421.83 207.88l3.17 -3.17M422.02 206.3h4.4 M424.22 204.1v4.4 M422.63 204.72l3.17 3.17 M422.63 207.88l3.17 -3.17M422.82 206.3h4.4 M425.02 204.1v4.4 M423.44 204.72l3.17 3.17 M423.44 207.88l3.17 -3.17M423.63 206.3h4.4 M425.83 204.1v4.4 M424.24 204.72l3.17 3.17 M424.24 207.88l3.17 -3.17M424.43 206.3h4.4 M426.63 204.1v4.4 M425.05 204.72l3.17 3.17 M425.05 207.88l3.17 -3.17M425.23 206.3h4.4 M427.43 204.1v4.4 M425.85 204.72l3.17 3.17 M425.85 207.88l3.17 -3.17M426.04 206.3h4.4 M428.24 204.1v4.4 M426.65 204.72l3.17 3.17 M426.65 207.88l3.17 -3.17M426.84 206.3h4.4 M429.04 204.1v4.4 M427.46 204.72l3.17 3.17 M427.46 207.88l3.17 -3.17M427.65 206.3h4.4 M429.85 204.1v4.4 M428.26 204.72l3.17 3.17 M428.26 207.88l3.17 -3.17M428.45 206.3h4.4 M430.65 204.1v4.4 M429.07 204.72l3.17 3.17 M429.07 207.88l3.17 -3.17M429.25 206.3h4.4 M431.45 204.1v4.4 M429.87 204.72l3.17 3.17 M429.87 207.88l3.17 -3.17M430.06 206.3h4.4 M432.26 204.1v4.4 M430.67 204.72l3.17 3.17 M430.67 207.88l3.17 -3.17M430.86 206.3h4.4 M433.06 204.1v4.4 M431.48 204.72l3.17 3.17 M431.48 207.88l3.17 -3.17M431.67 206.3h4.4 M433.87 204.1v4.4 M432.28 204.72l3.17 3.17 M432.28 207.88l3.17 -3.17M432.47 206.3h4.4 M434.67 204.1v4.4 M433.09 204.72l3.17 3.17 M433.09 207.88l3.17 -3.17M433.27 206.3h4.4 M435.47 204.1v4.4 M433.89 204.72l3.17 3.17 M433.89 207.88l3.17 -3.17M434.08 206.3h4.4 M436.28 204.1v4.4 M434.69 204.72l3.17 3.17 M434.69 207.88l3.17 -3.17M434.88 206.3h4.4 M437.08 204.1v4.4 M435.5 204.72l3.17 3.17 M435.5 207.88l3.17 -3.17M435.69 206.3h4.4 M437.89 204.1v4.4 M436.3 204.72l3.17 3.17 M436.3 207.88l3.17 -3.17M436.49 206.3h4.4 M438.69 204.1v4.4 M437.11 204.72l3.17 3.17 M437.11 207.88l3.17 -3.17M437.29 206.3h4.4 M439.49 204.1v4.4 M437.91 204.72l3.17 3.17 M437.91 207.88l3.17 -3.17M438.1 206.3h4.4 M440.3 204.1v4.4 M438.71 204.72l3.17 3.17 M438.71 207.88l3.17 -3.17M438.9 206.3h4.4 M441.1 204.1v4.4 M439.52 204.72l3.17 3.17 M439.52 207.88l3.17 -3.17M439.7 206.3h4.4 M441.9 204.1v4.4 M440.32 204.72l3.17 3.17 M440.32 207.88l3.17 -3.17M440.51 206.3h4.4 M442.71 204.1v4.4 M441.12 204.72l3.17 3.17 M441.12 207.88l3.17 -3.17M441.31 206.3h4.4 M443.51 204.1v4.4 M441.93 204.72l3.17 3.17 M441.93 207.88l3.17 -3.17M442.12 206.3h4.4 M444.32 204.1v4.4 M442.73 204.72l3.17 3.17 M442.73 207.88l3.17 -3.17M442.92 206.3h4.4 M445.12 204.1v4.4 M443.54 204.72l3.17 3.17 M443.54 207.88l3.17 -3.17M443.72 206.3h4.4 M445.92 204.1v4.4 M444.34 204.72l3.17 3.17 M444.34 207.88l3.17 -3.17M444.53 206.3h4.4 M446.73 204.1v4.4 M445.14 204.72l3.17 3.17 M445.14 207.88l3.17 -3.17M445.33 206.3h4.4 M447.53 204.1v4.4 M445.95 204.72l3.17 3.17 M445.95 207.88l3.17 -3.17M446.14 206.3h4.4 M448.34 204.1v4.4 M446.75 204.72l3.17 3.17 M446.75 207.88l3.17 -3.17M446.94 206.3h4.4 M449.14 204.1v4.4 M447.56 204.72l3.17 3.17 M447.56 207.88l3.17 -3.17M447.74 206.3h4.4 M449.94 204.1v4.4 M448.36 204.72l3.17 3.17 M448.36 207.88l3.17 -3.17M448.55 206.3h4.4 M450.75 204.1v4.4 M449.16 204.72l3.17 3.17 M449.16 207.88l3.17 -3.17M449.35 206.3h4.4 M451.55 204.1v4.4 M449.97 204.72l3.17 3.17 M449.97 207.88l3.17 -3.17M450.16 206.3h4.4 M452.36 204.1v4.4 M450.77 204.72l3.17 3.17 M450.77 207.88l3.17 -3.17M450.96 206.3h4.4 M453.16 204.1v4.4 M451.58 204.72l3.17 3.17 M451.58 207.88l3.17 -3.17M451.76 206.3h4.4 M453.96 204.1v4.4 M452.38 204.72l3.17 3.17 M452.38 207.88l3.17 -3.17M452.57 206.3h4.4 M454.77 204.1v4.4 M453.18 204.72l3.17 3.17 M453.18 207.88l3.17 -3.17M453.37 206.3h4.4 M455.57 204.1v4.4 M453.99 204.72l3.17 3.17 M453.99 207.88l3.17 -3.17M454.18 206.3h4.4 M456.38 204.1v4.4 M454.79 204.72l3.17 3.17 M454.79 207.88l3.17 -3.17M454.98 206.3h4.4 M457.18 204.1v4.4 M455.6 204.72l3.17 3.17 M455.6 207.88l3.17 -3.17M455.78 206.3h4.4 M457.98 204.1v4.4 M456.4 204.72l3.17 3.17 M456.4 207.88l3.17 -3.17M456.59 206.3h4.4 M458.79 204.1v4.4 M457.2 204.72l3.17 3.17 M457.2 207.88l3.17 -3.17M457.39 206.3h4.4 M459.59 204.1v4.4 M458.01 204.72l3.17 3.17 M458.01 207.88l3.17 -3.17M458.2 206.3h4.4 M460.4 204.1v4.4 M458.81 204.72l3.17 3.17 M458.81 207.88l3.17 -3.17M459 206.3h4.4 M461.2 204.1v4.4 M459.62 204.72l3.17 3.17 M459.62 207.88l3.17 -3.17" stroke="#ff0000" stroke-width="1.3" stroke-linecap="round" fill="none"/>
<path d="M31 315.5H313.8V538.4H31Z" fill="none" stroke="#222" stroke-width="1"/>
<path d="M31 538.4v-3.2 M31 315.5v3.2 M78.13 538.4v-3.2 M78.13 315.5v3.2 M125.27 538.4v-3.2 M125.27 315.5v3.2 M172.4 538.4v-3.2 M172.4 315.5v3.2 M219.53 538.4v-3.2 M219.53 315.5v3.2 M266.67 538.4v-3.2 M266.67 315.5v3.2 M313.8 538.4v-3.2 M313.8 315.5v3.2 M31 315.5h3.2 M313.8 315.5h-3.2 M31 343.36h3.2 M313.8 343.36h-3.2 M31 371.23h3.2 M313.8 371.23h-3.2 M31 399.09h3.2 M313.8 399.09h-3.2 M31 426.95h3.2 M313.8 426.95h-3.2 M31 454.81h3.2 M313.8 454.81h-3.2 M31 482.67h3.2 M313.8 482.67h-3.2 M31 510.54h3.2 M313.8 510.54h-3.2 M31 538.4h3.2 M313.8 538.4h-3.2 " stroke="#222" stroke-width="1" fill="none"/>
<text class="t" transform="translate(31.8 548) scale(1 1)" text-anchor="middle">-1.5</text>
<text class="t" transform="translate(78.93 548) scale(1 1)" text-anchor="middle">-1.0</text>
<text class="t" transform="translate(126.07 548) scale(1 1)" text-anchor="middle">-0.5</text>
<text class="t" transform="translate(173.2 548) scale(1 1)" text-anchor="middle">0</text>
<text class="t" transform="translate(220.33 548) scale(1 1)" text-anchor="middle">0.5</text>
<text class="t" transform="translate(267.47 548) scale(1 1)" text-anchor="middle">1.0</text>
<text class="t" transform="translate(314.6 548) scale(1 1)" text-anchor="middle">1.5</text>
<text class="t" transform="translate(28.1 316.85) scale(1 1)" text-anchor="end">4</text>
<text class="t" transform="translate(28.1 344.71) scale(1 1)" text-anchor="end">3</text>
<text class="t" transform="translate(28.1 372.58) scale(1 1)" text-anchor="end">2</text>
<text class="t" transform="translate(28.1 400.44) scale(1 1)" text-anchor="end">1</text>
<text class="t" transform="translate(28.1 428.3) scale(1 1)" text-anchor="end">0</text>
<text class="t" transform="translate(28.1 456.16) scale(1 1)" text-anchor="end">-1</text>
<text class="t" transform="translate(28.1 484.02) scale(1 1)" text-anchor="end">-2</text>
<text class="t" transform="translate(28.1 511.89) scale(1 1)" text-anchor="end">-3</text>
<text class="t" transform="translate(28.1 539.75) scale(1 1)" text-anchor="end">-4</text>
<text class="lb" x="171.5" y="561.3" text-anchor="middle">Real</text>
<text class="lb" transform="translate(8.3 424.5) rotate(-90)" text-anchor="middle">Imaginary</text>
<text class="t" x="32.2" y="312.9" style="font-size:11px">×</text>
<text class="t" transform="translate(39.1 311.7) scale(1 1)">10</text>
<text class="t" x="48.7" y="307" style="font-size:7px">-15</text>
<path d="M71.2 426.95h4.6 M73.5 424.65v4.6 M71.84 425.29l3.31 3.31 M71.84 428.61l3.31 -3.31M123.3 337.4h4.6 M125.6 335.1v4.6 M123.94 335.74l3.31 3.31 M123.94 339.06l3.31 -3.31M123.3 352h4.6 M125.6 349.7v4.6 M123.94 350.34l3.31 3.31 M123.94 353.66l3.31 -3.31M123.3 355h4.6 M125.6 352.7v4.6 M123.94 353.34l3.31 3.31 M123.94 356.66l3.31 -3.31M123.3 516.8h4.6 M125.6 514.5v4.6 M123.94 515.14l3.31 3.31 M123.94 518.46l3.31 -3.31M123.3 499h4.6 M125.6 496.7v4.6 M123.94 497.34l3.31 3.31 M123.94 500.66l3.31 -3.31M123.3 502.5h4.6 M125.6 500.2v4.6 M123.94 500.84l3.31 3.31 M123.94 504.16l3.31 -3.31M123.3 367.5h4.6 M125.6 365.2v4.6 M123.94 365.84l3.31 3.31 M123.94 369.16l3.31 -3.31M123.3 368.9h4.6 M125.6 366.6v4.6 M123.94 367.24l3.31 3.31 M123.94 370.56l3.31 -3.31M123.3 370.3h4.6 M125.6 368v4.6 M123.94 368.64l3.31 3.31 M123.94 371.96l3.31 -3.31M123.3 371.7h4.6 M125.6 369.4v4.6 M123.94 370.04l3.31 3.31 M123.94 373.36l3.31 -3.31M123.3 373.1h4.6 M125.6 370.8v4.6 M123.94 371.44l3.31 3.31 M123.94 374.76l3.31 -3.31M123.3 374.5h4.6 M125.6 372.2v4.6 M123.94 372.84l3.31 3.31 M123.94 376.16l3.31 -3.31M123.3 382h4.6 M125.6 379.7v4.6 M123.94 380.34l3.31 3.31 M123.94 383.66l3.31 -3.31M123.3 382.91h4.6 M125.6 380.61v4.6 M123.94 381.25l3.31 3.31 M123.94 384.56l3.31 -3.31M123.3 383.81h4.6 M125.6 381.51v4.6 M123.94 382.16l3.31 3.31 M123.94 385.47l3.31 -3.31M123.3 384.72h4.6 M125.6 382.42v4.6 M123.94 383.07l3.31 3.31 M123.94 386.38l3.31 -3.31M123.3 385.63h4.6 M125.6 383.33v4.6 M123.94 383.97l3.31 3.31 M123.94 387.28l3.31 -3.31M123.3 386.54h4.6 M125.6 384.24v4.6 M123.94 384.88l3.31 3.31 M123.94 388.19l3.31 -3.31M123.3 387.44h4.6 M125.6 385.14v4.6 M123.94 385.79l3.31 3.31 M123.94 389.1l3.31 -3.31M123.3 388.35h4.6 M125.6 386.05v4.6 M123.94 386.69l3.31 3.31 M123.94 390.01l3.31 -3.31M123.3 389.26h4.6 M125.6 386.96v4.6 M123.94 387.6l3.31 3.31 M123.94 390.91l3.31 -3.31M123.3 390.16h4.6 M125.6 387.86v4.6 M123.94 388.51l3.31 3.31 M123.94 391.82l3.31 -3.31M123.3 391.07h4.6 M125.6 388.77v4.6 M123.94 389.42l3.31 3.31 M123.94 392.73l3.31 -3.31M123.3 391.98h4.6 M125.6 389.68v4.6 M123.94 390.32l3.31 3.31 M123.94 393.64l3.31 -3.31M123.3 392.89h4.6 M125.6 390.59v4.6 M123.94 391.23l3.31 3.31 M123.94 394.54l3.31 -3.31M123.3 393.79h4.6 M125.6 391.49v4.6 M123.94 392.14l3.31 3.31 M123.94 395.45l3.31 -3.31M123.3 394.7h4.6 M125.6 392.4v4.6 M123.94 393.05l3.31 3.31 M123.94 396.36l3.31 -3.31M123.3 395.61h4.6 M125.6 393.31v4.6 M123.94 393.95l3.31 3.31 M123.94 397.26l3.31 -3.31M123.3 396.52h4.6 M125.6 394.22v4.6 M123.94 394.86l3.31 3.31 M123.94 398.17l3.31 -3.31M123.3 397.42h4.6 M125.6 395.12v4.6 M123.94 395.77l3.31 3.31 M123.94 399.08l3.31 -3.31M123.3 398.33h4.6 M125.6 396.03v4.6 M123.94 396.67l3.31 3.31 M123.94 399.99l3.31 -3.31M123.3 399.24h4.6 M125.6 396.94v4.6 M123.94 397.58l3.31 3.31 M123.94 400.89l3.31 -3.31M123.3 400.14h4.6 M125.6 397.84v4.6 M123.94 398.49l3.31 3.31 M123.94 401.8l3.31 -3.31M123.3 401.05h4.6 M125.6 398.75v4.6 M123.94 399.4l3.31 3.31 M123.94 402.71l3.31 -3.31M123.3 401.96h4.6 M125.6 399.66v4.6 M123.94 400.3l3.31 3.31 M123.94 403.61l3.31 -3.31M123.3 402.87h4.6 M125.6 400.57v4.6 M123.94 401.21l3.31 3.31 M123.94 404.52l3.31 -3.31M123.3 403.77h4.6 M125.6 401.47v4.6 M123.94 402.12l3.31 3.31 M123.94 405.43l3.31 -3.31M123.3 404.68h4.6 M125.6 402.38v4.6 M123.94 403.02l3.31 3.31 M123.94 406.34l3.31 -3.31M123.3 405.59h4.6 M125.6 403.29v4.6 M123.94 403.93l3.31 3.31 M123.94 407.24l3.31 -3.31M123.3 406.49h4.6 M125.6 404.19v4.6 M123.94 404.84l3.31 3.31 M123.94 408.15l3.31 -3.31M123.3 407.4h4.6 M125.6 405.1v4.6 M123.94 405.75l3.31 3.31 M123.94 409.06l3.31 -3.31M123.3 408.31h4.6 M125.6 406.01v4.6 M123.94 406.65l3.31 3.31 M123.94 409.97l3.31 -3.31M123.3 409.22h4.6 M125.6 406.92v4.6 M123.94 407.56l3.31 3.31 M123.94 410.87l3.31 -3.31M123.3 410.12h4.6 M125.6 407.82v4.6 M123.94 408.47l3.31 3.31 M123.94 411.78l3.31 -3.31M123.3 411.03h4.6 M125.6 408.73v4.6 M123.94 409.37l3.31 3.31 M123.94 412.69l3.31 -3.31M123.3 411.94h4.6 M125.6 409.64v4.6 M123.94 410.28l3.31 3.31 M123.94 413.59l3.31 -3.31M123.3 412.85h4.6 M125.6 410.55v4.6 M123.94 411.19l3.31 3.31 M123.94 414.5l3.31 -3.31M123.3 413.75h4.6 M125.6 411.45v4.6 M123.94 412.1l3.31 3.31 M123.94 415.41l3.31 -3.31M123.3 414.66h4.6 M125.6 412.36v4.6 M123.94 413l3.31 3.31 M123.94 416.32l3.31 -3.31M123.3 415.57h4.6 M125.6 413.27v4.6 M123.94 413.91l3.31 3.31 M123.94 417.22l3.31 -3.31M123.3 416.47h4.6 M125.6 414.17v4.6 M123.94 414.82l3.31 3.31 M123.94 418.13l3.31 -3.31M123.3 417.38h4.6 M125.6 415.08v4.6 M123.94 415.73l3.31 3.31 M123.94 419.04l3.31 -3.31M123.3 418.29h4.6 M125.6 415.99v4.6 M123.94 416.63l3.31 3.31 M123.94 419.94l3.31 -3.31M123.3 419.2h4.6 M125.6 416.9v4.6 M123.94 417.54l3.31 3.31 M123.94 420.85l3.31 -3.31M123.3 420.1h4.6 M125.6 417.8v4.6 M123.94 418.45l3.31 3.31 M123.94 421.76l3.31 -3.31M123.3 421.01h4.6 M125.6 418.71v4.6 M123.94 419.35l3.31 3.31 M123.94 422.67l3.31 -3.31M123.3 421.92h4.6 M125.6 419.62v4.6 M123.94 420.26l3.31 3.31 M123.94 423.57l3.31 -3.31M123.3 422.82h4.6 M125.6 420.52v4.6 M123.94 421.17l3.31 3.31 M123.94 424.48l3.31 -3.31M123.3 423.73h4.6 M125.6 421.43v4.6 M123.94 422.08l3.31 3.31 M123.94 425.39l3.31 -3.31M123.3 424.64h4.6 M125.6 422.34v4.6 M123.94 422.98l3.31 3.31 M123.94 426.3l3.31 -3.31M123.3 425.55h4.6 M125.6 423.25v4.6 M123.94 423.89l3.31 3.31 M123.94 427.2l3.31 -3.31M123.3 426.45h4.6 M125.6 424.15v4.6 M123.94 424.8l3.31 3.31 M123.94 428.11l3.31 -3.31M123.3 427.36h4.6 M125.6 425.06v4.6 M123.94 425.7l3.31 3.31 M123.94 429.02l3.31 -3.31M123.3 428.27h4.6 M125.6 425.97v4.6 M123.94 426.61l3.31 3.31 M123.94 429.92l3.31 -3.31M123.3 429.18h4.6 M125.6 426.88v4.6 M123.94 427.52l3.31 3.31 M123.94 430.83l3.31 -3.31M123.3 430.08h4.6 M125.6 427.78v4.6 M123.94 428.43l3.31 3.31 M123.94 431.74l3.31 -3.31M123.3 430.99h4.6 M125.6 428.69v4.6 M123.94 429.33l3.31 3.31 M123.94 432.65l3.31 -3.31M123.3 431.9h4.6 M125.6 429.6v4.6 M123.94 430.24l3.31 3.31 M123.94 433.55l3.31 -3.31M123.3 432.8h4.6 M125.6 430.5v4.6 M123.94 431.15l3.31 3.31 M123.94 434.46l3.31 -3.31M123.3 433.71h4.6 M125.6 431.41v4.6 M123.94 432.06l3.31 3.31 M123.94 435.37l3.31 -3.31M123.3 434.62h4.6 M125.6 432.32v4.6 M123.94 432.96l3.31 3.31 M123.94 436.27l3.31 -3.31M123.3 435.53h4.6 M125.6 433.23v4.6 M123.94 433.87l3.31 3.31 M123.94 437.18l3.31 -3.31M123.3 436.43h4.6 M125.6 434.13v4.6 M123.94 434.78l3.31 3.31 M123.94 438.09l3.31 -3.31M123.3 437.34h4.6 M125.6 435.04v4.6 M123.94 435.68l3.31 3.31 M123.94 439l3.31 -3.31M123.3 438.25h4.6 M125.6 435.95v4.6 M123.94 436.59l3.31 3.31 M123.94 439.9l3.31 -3.31M123.3 439.15h4.6 M125.6 436.85v4.6 M123.94 437.5l3.31 3.31 M123.94 440.81l3.31 -3.31M123.3 440.06h4.6 M125.6 437.76v4.6 M123.94 438.41l3.31 3.31 M123.94 441.72l3.31 -3.31M123.3 440.97h4.6 M125.6 438.67v4.6 M123.94 439.31l3.31 3.31 M123.94 442.63l3.31 -3.31M123.3 441.88h4.6 M125.6 439.58v4.6 M123.94 440.22l3.31 3.31 M123.94 443.53l3.31 -3.31M123.3 442.78h4.6 M125.6 440.48v4.6 M123.94 441.13l3.31 3.31 M123.94 444.44l3.31 -3.31M123.3 443.69h4.6 M125.6 441.39v4.6 M123.94 442.03l3.31 3.31 M123.94 445.35l3.31 -3.31M123.3 444.6h4.6 M125.6 442.3v4.6 M123.94 442.94l3.31 3.31 M123.94 446.25l3.31 -3.31M123.3 445.51h4.6 M125.6 443.21v4.6 M123.94 443.85l3.31 3.31 M123.94 447.16l3.31 -3.31M123.3 446.41h4.6 M125.6 444.11v4.6 M123.94 444.76l3.31 3.31 M123.94 448.07l3.31 -3.31M123.3 447.32h4.6 M125.6 445.02v4.6 M123.94 445.66l3.31 3.31 M123.94 448.98l3.31 -3.31M123.3 448.23h4.6 M125.6 445.93v4.6 M123.94 446.57l3.31 3.31 M123.94 449.88l3.31 -3.31M123.3 449.13h4.6 M125.6 446.83v4.6 M123.94 447.48l3.31 3.31 M123.94 450.79l3.31 -3.31M123.3 450.04h4.6 M125.6 447.74v4.6 M123.94 448.39l3.31 3.31 M123.94 451.7l3.31 -3.31M123.3 450.95h4.6 M125.6 448.65v4.6 M123.94 449.29l3.31 3.31 M123.94 452.6l3.31 -3.31M123.3 451.86h4.6 M125.6 449.56v4.6 M123.94 450.2l3.31 3.31 M123.94 453.51l3.31 -3.31M123.3 452.76h4.6 M125.6 450.46v4.6 M123.94 451.11l3.31 3.31 M123.94 454.42l3.31 -3.31M123.3 453.67h4.6 M125.6 451.37v4.6 M123.94 452.01l3.31 3.31 M123.94 455.33l3.31 -3.31M123.3 454.58h4.6 M125.6 452.28v4.6 M123.94 452.92l3.31 3.31 M123.94 456.23l3.31 -3.31M123.3 455.48h4.6 M125.6 453.18v4.6 M123.94 453.83l3.31 3.31 M123.94 457.14l3.31 -3.31M123.3 456.39h4.6 M125.6 454.09v4.6 M123.94 454.74l3.31 3.31 M123.94 458.05l3.31 -3.31M123.3 457.3h4.6 M125.6 455v4.6 M123.94 455.64l3.31 3.31 M123.94 458.95l3.31 -3.31M123.3 458.21h4.6 M125.6 455.91v4.6 M123.94 456.55l3.31 3.31 M123.94 459.86l3.31 -3.31M123.3 459.11h4.6 M125.6 456.81v4.6 M123.94 457.46l3.31 3.31 M123.94 460.77l3.31 -3.31M123.3 460.02h4.6 M125.6 457.72v4.6 M123.94 458.36l3.31 3.31 M123.94 461.68l3.31 -3.31M123.3 460.93h4.6 M125.6 458.63v4.6 M123.94 459.27l3.31 3.31 M123.94 462.58l3.31 -3.31M123.3 461.84h4.6 M125.6 459.54v4.6 M123.94 460.18l3.31 3.31 M123.94 463.49l3.31 -3.31M123.3 462.74h4.6 M125.6 460.44v4.6 M123.94 461.09l3.31 3.31 M123.94 464.4l3.31 -3.31M123.3 463.65h4.6 M125.6 461.35v4.6 M123.94 461.99l3.31 3.31 M123.94 465.31l3.31 -3.31M123.3 464.56h4.6 M125.6 462.26v4.6 M123.94 462.9l3.31 3.31 M123.94 466.21l3.31 -3.31M123.3 465.46h4.6 M125.6 463.16v4.6 M123.94 463.81l3.31 3.31 M123.94 467.12l3.31 -3.31M123.3 466.37h4.6 M125.6 464.07v4.6 M123.94 464.72l3.31 3.31 M123.94 468.03l3.31 -3.31M123.3 467.28h4.6 M125.6 464.98v4.6 M123.94 465.62l3.31 3.31 M123.94 468.93l3.31 -3.31M123.3 468.19h4.6 M125.6 465.89v4.6 M123.94 466.53l3.31 3.31 M123.94 469.84l3.31 -3.31M123.3 469.09h4.6 M125.6 466.79v4.6 M123.94 467.44l3.31 3.31 M123.94 470.75l3.31 -3.31M123.3 470h4.6 M125.6 467.7v4.6 M123.94 468.34l3.31 3.31 M123.94 471.66l3.31 -3.31M123.3 473h4.6 M125.6 470.7v4.6 M123.94 471.34l3.31 3.31 M123.94 474.66l3.31 -3.31M123.3 476.5h4.6 M125.6 474.2v4.6 M123.94 474.84l3.31 3.31 M123.94 478.16l3.31 -3.31M123.3 479.5h4.6 M125.6 477.2v4.6 M123.94 477.84l3.31 3.31 M123.94 481.16l3.31 -3.31M123.3 482.5h4.6 M125.6 480.2v4.6 M123.94 480.84l3.31 3.31 M123.94 484.16l3.31 -3.31M123.3 485h4.6 M125.6 482.7v4.6 M123.94 483.34l3.31 3.31 M123.94 486.66l3.31 -3.31M123.3 487h4.6 M125.6 484.7v4.6 M123.94 485.34l3.31 3.31 M123.94 488.66l3.31 -3.31M123.3 426.95h4.6 M125.6 424.65v4.6 M123.94 425.29l3.31 3.31 M123.94 428.61l3.31 -3.31M124.22 426.95h4.6 M126.52 424.65v4.6 M124.86 425.29l3.31 3.31 M124.86 428.61l3.31 -3.31M125.14 426.95h4.6 M127.44 424.65v4.6 M125.78 425.29l3.31 3.31 M125.78 428.61l3.31 -3.31M126.06 426.95h4.6 M128.36 424.65v4.6 M126.7 425.29l3.31 3.31 M126.7 428.61l3.31 -3.31M126.98 426.95h4.6 M129.28 424.65v4.6 M127.62 425.29l3.31 3.31 M127.62 428.61l3.31 -3.31M127.9 426.95h4.6 M130.2 424.65v4.6 M128.54 425.29l3.31 3.31 M128.54 428.61l3.31 -3.31M128.82 426.95h4.6 M131.12 424.65v4.6 M129.46 425.29l3.31 3.31 M129.46 428.61l3.31 -3.31M129.74 426.95h4.6 M132.04 424.65v4.6 M130.38 425.29l3.31 3.31 M130.38 428.61l3.31 -3.31M130.66 426.95h4.6 M132.96 424.65v4.6 M131.3 425.29l3.31 3.31 M131.3 428.61l3.31 -3.31M131.58 426.95h4.6 M133.88 424.65v4.6 M132.22 425.29l3.31 3.31 M132.22 428.61l3.31 -3.31M132.5 426.95h4.6 M134.8 424.65v4.6 M133.14 425.29l3.31 3.31 M133.14 428.61l3.31 -3.31M133.42 426.95h4.6 M135.72 424.65v4.6 M134.06 425.29l3.31 3.31 M134.06 428.61l3.31 -3.31M134.34 426.95h4.6 M136.64 424.65v4.6 M134.98 425.29l3.31 3.31 M134.98 428.61l3.31 -3.31M135.26 426.95h4.6 M137.56 424.65v4.6 M135.9 425.29l3.31 3.31 M135.9 428.61l3.31 -3.31M136.18 426.95h4.6 M138.48 424.65v4.6 M136.82 425.29l3.31 3.31 M136.82 428.61l3.31 -3.31M137.1 426.95h4.6 M139.4 424.65v4.6 M137.74 425.29l3.31 3.31 M137.74 428.61l3.31 -3.31M138.02 426.95h4.6 M140.32 424.65v4.6 M138.66 425.29l3.31 3.31 M138.66 428.61l3.31 -3.31M138.94 426.95h4.6 M141.24 424.65v4.6 M139.58 425.29l3.31 3.31 M139.58 428.61l3.31 -3.31M139.86 426.95h4.6 M142.16 424.65v4.6 M140.5 425.29l3.31 3.31 M140.5 428.61l3.31 -3.31M140.78 426.95h4.6 M143.08 424.65v4.6 M141.42 425.29l3.31 3.31 M141.42 428.61l3.31 -3.31M141.7 426.95h4.6 M144 424.65v4.6 M142.34 425.29l3.31 3.31 M142.34 428.61l3.31 -3.31M143.7 426.95h4.6 M146 424.65v4.6 M144.34 425.29l3.31 3.31 M144.34 428.61l3.31 -3.31M145.7 426.95h4.6 M148 424.65v4.6 M146.34 425.29l3.31 3.31 M146.34 428.61l3.31 -3.31M147.7 426.95h4.6 M150 424.65v4.6 M148.34 425.29l3.31 3.31 M148.34 428.61l3.31 -3.31M150.3 426.95h4.6 M152.6 424.65v4.6 M150.94 425.29l3.31 3.31 M150.94 428.61l3.31 -3.31M264.4 368.3h4.6 M266.7 366v4.6 M265.04 366.64l3.31 3.31 M265.04 369.96l3.31 -3.31M264.4 370.8h4.6 M266.7 368.5v4.6 M265.04 369.14l3.31 3.31 M265.04 372.46l3.31 -3.31M264.4 484h4.6 M266.7 481.7v4.6 M265.04 482.34l3.31 3.31 M265.04 485.66l3.31 -3.31M264.4 486.3h4.6 M266.7 484v4.6 M265.04 484.64l3.31 3.31 M265.04 487.96l3.31 -3.31M264.4 396.5h4.6 M266.7 394.2v4.6 M265.04 394.84l3.31 3.31 M265.04 398.16l3.31 -3.31M264.4 397.5h4.6 M266.7 395.2v4.6 M265.04 395.84l3.31 3.31 M265.04 399.16l3.31 -3.31M264.4 398.5h4.6 M266.7 396.2v4.6 M265.04 396.84l3.31 3.31 M265.04 400.16l3.31 -3.31M264.4 399.5h4.6 M266.7 397.2v4.6 M265.04 397.84l3.31 3.31 M265.04 401.16l3.31 -3.31M264.4 400.5h4.6 M266.7 398.2v4.6 M265.04 398.84l3.31 3.31 M265.04 402.16l3.31 -3.31M264.4 401.5h4.6 M266.7 399.2v4.6 M265.04 399.84l3.31 3.31 M265.04 403.16l3.31 -3.31M264.4 402.5h4.6 M266.7 400.2v4.6 M265.04 400.84l3.31 3.31 M265.04 404.16l3.31 -3.31M264.4 403.5h4.6 M266.7 401.2v4.6 M265.04 401.84l3.31 3.31 M265.04 405.16l3.31 -3.31M264.4 404.5h4.6 M266.7 402.2v4.6 M265.04 402.84l3.31 3.31 M265.04 406.16l3.31 -3.31M264.4 405.5h4.6 M266.7 403.2v4.6 M265.04 403.84l3.31 3.31 M265.04 407.16l3.31 -3.31M264.4 406.5h4.6 M266.7 404.2v4.6 M265.04 404.84l3.31 3.31 M265.04 408.16l3.31 -3.31M264.4 407.5h4.6 M266.7 405.2v4.6 M265.04 405.84l3.31 3.31 M265.04 409.16l3.31 -3.31M264.4 408.5h4.6 M266.7 406.2v4.6 M265.04 406.84l3.31 3.31 M265.04 410.16l3.31 -3.31M264.4 409.5h4.6 M266.7 407.2v4.6 M265.04 407.84l3.31 3.31 M265.04 411.16l3.31 -3.31M264.4 410.5h4.6 M266.7 408.2v4.6 M265.04 408.84l3.31 3.31 M265.04 412.16l3.31 -3.31M264.4 411.5h4.6 M266.7 409.2v4.6 M265.04 409.84l3.31 3.31 M265.04 413.16l3.31 -3.31M264.4 412.5h4.6 M266.7 410.2v4.6 M265.04 410.84l3.31 3.31 M265.04 414.16l3.31 -3.31M264.4 413.5h4.6 M266.7 411.2v4.6 M265.04 411.84l3.31 3.31 M265.04 415.16l3.31 -3.31M264.4 414.5h4.6 M266.7 412.2v4.6 M265.04 412.84l3.31 3.31 M265.04 416.16l3.31 -3.31M264.4 415.5h4.6 M266.7 413.2v4.6 M265.04 413.84l3.31 3.31 M265.04 417.16l3.31 -3.31M264.4 416.5h4.6 M266.7 414.2v4.6 M265.04 414.84l3.31 3.31 M265.04 418.16l3.31 -3.31M264.4 417.5h4.6 M266.7 415.2v4.6 M265.04 415.84l3.31 3.31 M265.04 419.16l3.31 -3.31M264.4 418.5h4.6 M266.7 416.2v4.6 M265.04 416.84l3.31 3.31 M265.04 420.16l3.31 -3.31M264.4 419.5h4.6 M266.7 417.2v4.6 M265.04 417.84l3.31 3.31 M265.04 421.16l3.31 -3.31M264.4 420.5h4.6 M266.7 418.2v4.6 M265.04 418.84l3.31 3.31 M265.04 422.16l3.31 -3.31M264.4 421.5h4.6 M266.7 419.2v4.6 M265.04 419.84l3.31 3.31 M265.04 423.16l3.31 -3.31M264.4 433.5h4.6 M266.7 431.2v4.6 M265.04 431.84l3.31 3.31 M265.04 435.16l3.31 -3.31M264.4 434.5h4.6 M266.7 432.2v4.6 M265.04 432.84l3.31 3.31 M265.04 436.16l3.31 -3.31M264.4 435.5h4.6 M266.7 433.2v4.6 M265.04 433.84l3.31 3.31 M265.04 437.16l3.31 -3.31M264.4 436.5h4.6 M266.7 434.2v4.6 M265.04 434.84l3.31 3.31 M265.04 438.16l3.31 -3.31M264.4 437.5h4.6 M266.7 435.2v4.6 M265.04 435.84l3.31 3.31 M265.04 439.16l3.31 -3.31M264.4 438.5h4.6 M266.7 436.2v4.6 M265.04 436.84l3.31 3.31 M265.04 440.16l3.31 -3.31M264.4 439.5h4.6 M266.7 437.2v4.6 M265.04 437.84l3.31 3.31 M265.04 441.16l3.31 -3.31M264.4 440.5h4.6 M266.7 438.2v4.6 M265.04 438.84l3.31 3.31 M265.04 442.16l3.31 -3.31M264.4 441.5h4.6 M266.7 439.2v4.6 M265.04 439.84l3.31 3.31 M265.04 443.16l3.31 -3.31M264.4 442.5h4.6 M266.7 440.2v4.6 M265.04 440.84l3.31 3.31 M265.04 444.16l3.31 -3.31M264.4 443.5h4.6 M266.7 441.2v4.6 M265.04 441.84l3.31 3.31 M265.04 445.16l3.31 -3.31M264.4 444.5h4.6 M266.7 442.2v4.6 M265.04 442.84l3.31 3.31 M265.04 446.16l3.31 -3.31M264.4 445.5h4.6 M266.7 443.2v4.6 M265.04 443.84l3.31 3.31 M265.04 447.16l3.31 -3.31M264.4 446.5h4.6 M266.7 444.2v4.6 M265.04 444.84l3.31 3.31 M265.04 448.16l3.31 -3.31M264.4 447.5h4.6 M266.7 445.2v4.6 M265.04 445.84l3.31 3.31 M265.04 449.16l3.31 -3.31M264.4 448.5h4.6 M266.7 446.2v4.6 M265.04 446.84l3.31 3.31 M265.04 450.16l3.31 -3.31M264.4 449.5h4.6 M266.7 447.2v4.6 M265.04 447.84l3.31 3.31 M265.04 451.16l3.31 -3.31M264.4 450.5h4.6 M266.7 448.2v4.6 M265.04 448.84l3.31 3.31 M265.04 452.16l3.31 -3.31M264.4 451.5h4.6 M266.7 449.2v4.6 M265.04 449.84l3.31 3.31 M265.04 453.16l3.31 -3.31M264.4 452.5h4.6 M266.7 450.2v4.6 M265.04 450.84l3.31 3.31 M265.04 454.16l3.31 -3.31M264.4 453.5h4.6 M266.7 451.2v4.6 M265.04 451.84l3.31 3.31 M265.04 455.16l3.31 -3.31M264.4 454.5h4.6 M266.7 452.2v4.6 M265.04 452.84l3.31 3.31 M265.04 456.16l3.31 -3.31M264.4 455.5h4.6 M266.7 453.2v4.6 M265.04 453.84l3.31 3.31 M265.04 457.16l3.31 -3.31M264.4 456.5h4.6 M266.7 454.2v4.6 M265.04 454.84l3.31 3.31 M265.04 458.16l3.31 -3.31M264.4 457.5h4.6 M266.7 455.2v4.6 M265.04 455.84l3.31 3.31 M265.04 459.16l3.31 -3.31M264.4 458.5h4.6 M266.7 456.2v4.6 M265.04 456.84l3.31 3.31 M265.04 460.16l3.31 -3.31M264.4 426.95h4.6 M266.7 424.65v4.6 M265.04 425.29l3.31 3.31 M265.04 428.61l3.31 -3.31" stroke="#0000ff" stroke-width="1.35" stroke-linecap="round" fill="none"/>
<path d="M395.6 315.5H678.1V538.4H395.6Z" fill="none" stroke="#222" stroke-width="1"/>
<path d="M395.6 538.4v-3.2 M395.6 315.5v3.2 M442.68 538.4v-3.2 M442.68 315.5v3.2 M489.77 538.4v-3.2 M489.77 315.5v3.2 M536.85 538.4v-3.2 M536.85 315.5v3.2 M583.93 538.4v-3.2 M583.93 315.5v3.2 M631.02 538.4v-3.2 M631.02 315.5v3.2 M678.1 538.4v-3.2 M678.1 315.5v3.2 M395.6 315.5h3.2 M678.1 315.5h-3.2 M395.6 352.65h3.2 M678.1 352.65h-3.2 M395.6 389.8h3.2 M678.1 389.8h-3.2 M395.6 426.95h3.2 M678.1 426.95h-3.2 M395.6 464.1h3.2 M678.1 464.1h-3.2 M395.6 501.25h3.2 M678.1 501.25h-3.2 M395.6 538.4h3.2 M678.1 538.4h-3.2 " stroke="#222" stroke-width="1" fill="none"/>
<text class="t" transform="translate(396.4 548) scale(1 1)" text-anchor="middle">-1.5</text>
<text class="t" transform="translate(443.48 548) scale(1 1)" text-anchor="middle">-1.0</text>
<text class="t" transform="translate(490.57 548) scale(1 1)" text-anchor="middle">-0.5</text>
<text class="t" transform="translate(537.65 548) scale(1 1)" text-anchor="middle">0</text>
<text class="t" transform="translate(584.73 548) scale(1 1)" text-anchor="middle">0.5</text>
<text class="t" transform="translate(631.82 548) scale(1 1)" text-anchor="middle">1.0</text>
<text class="t" transform="translate(678.9 548) scale(1 1)" text-anchor="middle">1.5</text>
<text class="t" transform="translate(392.7 316.85) scale(1 1)" text-anchor="end">3</text>
<text class="t" transform="translate(392.7 354) scale(1 1)" text-anchor="end">2</text>
<text class="t" transform="translate(392.7 391.15) scale(1 1)" text-anchor="end">1</text>
<text class="t" transform="translate(392.7 428.3) scale(1 1)" text-anchor="end">0</text>
<text class="t" transform="translate(392.7 465.45) scale(1 1)" text-anchor="end">-1</text>
<text class="t" transform="translate(392.7 502.6) scale(1 1)" text-anchor="end">-2</text>
<text class="t" transform="translate(392.7 539.75) scale(1 1)" text-anchor="end">-3</text>
<text class="lb" x="534.5" y="561.3" text-anchor="middle">Real</text>
<text class="lb" transform="translate(371.4 424.5) rotate(-90)" text-anchor="middle">Imaginary</text>
<text class="t" x="396.6" y="312.9" style="font-size:11px">×</text>
<text class="t" transform="translate(403.5 311.7) scale(1 1)">10</text>
<text class="t" x="413.1" y="307" style="font-size:7px">-15</text>
<path d="M435.5 426.95h4.6 M437.8 424.65v4.6 M436.14 425.29l3.31 3.31 M436.14 428.61l3.31 -3.31M467.7 353.5h4.6 M470 351.2v4.6 M468.34 351.84l3.31 3.31 M468.34 355.16l3.31 -3.31M467.7 356.5h4.6 M470 354.2v4.6 M468.34 354.84l3.31 3.31 M468.34 358.16l3.31 -3.31M467.7 360h4.6 M470 357.7v4.6 M468.34 358.34l3.31 3.31 M468.34 361.66l3.31 -3.31M467.7 365h4.6 M470 362.7v4.6 M468.34 363.34l3.31 3.31 M468.34 366.66l3.31 -3.31M467.7 370h4.6 M470 367.7v4.6 M468.34 368.34l3.31 3.31 M468.34 371.66l3.31 -3.31M467.7 372h4.6 M470 369.7v4.6 M468.34 370.34l3.31 3.31 M468.34 373.66l3.31 -3.31M467.7 374h4.6 M470 371.7v4.6 M468.34 372.34l3.31 3.31 M468.34 375.66l3.31 -3.31M467.7 379.5h4.6 M470 377.2v4.6 M468.34 377.84l3.31 3.31 M468.34 381.16l3.31 -3.31M467.7 475h4.6 M470 472.7v4.6 M468.34 473.34l3.31 3.31 M468.34 476.66l3.31 -3.31M467.7 479h4.6 M470 476.7v4.6 M468.34 477.34l3.31 3.31 M468.34 480.66l3.31 -3.31M467.7 483h4.6 M470 480.7v4.6 M468.34 481.34l3.31 3.31 M468.34 484.66l3.31 -3.31M467.7 489h4.6 M470 486.7v4.6 M468.34 487.34l3.31 3.31 M468.34 490.66l3.31 -3.31M467.7 493.5h4.6 M470 491.2v4.6 M468.34 491.84l3.31 3.31 M468.34 495.16l3.31 -3.31M467.7 497h4.6 M470 494.7v4.6 M468.34 495.34l3.31 3.31 M468.34 498.66l3.31 -3.31M467.7 500h4.6 M470 497.7v4.6 M468.34 498.34l3.31 3.31 M468.34 501.66l3.31 -3.31M467.7 386.5h4.6 M470 384.2v4.6 M468.34 384.84l3.31 3.31 M468.34 388.16l3.31 -3.31M467.7 387.5h4.6 M470 385.2v4.6 M468.34 385.84l3.31 3.31 M468.34 389.16l3.31 -3.31M467.7 388.5h4.6 M470 386.2v4.6 M468.34 386.84l3.31 3.31 M468.34 390.16l3.31 -3.31M467.7 389.5h4.6 M470 387.2v4.6 M468.34 387.84l3.31 3.31 M468.34 391.16l3.31 -3.31M467.7 390.5h4.6 M470 388.2v4.6 M468.34 388.84l3.31 3.31 M468.34 392.16l3.31 -3.31M467.7 391.5h4.6 M470 389.2v4.6 M468.34 389.84l3.31 3.31 M468.34 393.16l3.31 -3.31M467.7 392.5h4.6 M470 390.2v4.6 M468.34 390.84l3.31 3.31 M468.34 394.16l3.31 -3.31M467.7 393.5h4.6 M470 391.2v4.6 M468.34 391.84l3.31 3.31 M468.34 395.16l3.31 -3.31M467.7 394.5h4.6 M470 392.2v4.6 M468.34 392.84l3.31 3.31 M468.34 396.16l3.31 -3.31M467.7 395.5h4.6 M470 393.2v4.6 M468.34 393.84l3.31 3.31 M468.34 397.16l3.31 -3.31M467.7 396.5h4.6 M470 394.2v4.6 M468.34 394.84l3.31 3.31 M468.34 398.16l3.31 -3.31M467.7 397.5h4.6 M470 395.2v4.6 M468.34 395.84l3.31 3.31 M468.34 399.16l3.31 -3.31M467.7 398.5h4.6 M470 396.2v4.6 M468.34 396.84l3.31 3.31 M468.34 400.16l3.31 -3.31M467.7 399.5h4.6 M470 397.2v4.6 M468.34 397.84l3.31 3.31 M468.34 401.16l3.31 -3.31M467.7 400.5h4.6 M470 398.2v4.6 M468.34 398.84l3.31 3.31 M468.34 402.16l3.31 -3.31M467.7 401.5h4.6 M470 399.2v4.6 M468.34 399.84l3.31 3.31 M468.34 403.16l3.31 -3.31M467.7 402.5h4.6 M470 400.2v4.6 M468.34 400.84l3.31 3.31 M468.34 404.16l3.31 -3.31M467.7 403.5h4.6 M470 401.2v4.6 M468.34 401.84l3.31 3.31 M468.34 405.16l3.31 -3.31M467.7 404.5h4.6 M470 402.2v4.6 M468.34 402.84l3.31 3.31 M468.34 406.16l3.31 -3.31M467.7 405.5h4.6 M470 403.2v4.6 M468.34 403.84l3.31 3.31 M468.34 407.16l3.31 -3.31M467.7 406.5h4.6 M470 404.2v4.6 M468.34 404.84l3.31 3.31 M468.34 408.16l3.31 -3.31M467.7 407.5h4.6 M470 405.2v4.6 M468.34 405.84l3.31 3.31 M468.34 409.16l3.31 -3.31M467.7 408.5h4.6 M470 406.2v4.6 M468.34 406.84l3.31 3.31 M468.34 410.16l3.31 -3.31M467.7 409.5h4.6 M470 407.2v4.6 M468.34 407.84l3.31 3.31 M468.34 411.16l3.31 -3.31M467.7 410.5h4.6 M470 408.2v4.6 M468.34 408.84l3.31 3.31 M468.34 412.16l3.31 -3.31M467.7 411.5h4.6 M470 409.2v4.6 M468.34 409.84l3.31 3.31 M468.34 413.16l3.31 -3.31M467.7 412.5h4.6 M470 410.2v4.6 M468.34 410.84l3.31 3.31 M468.34 414.16l3.31 -3.31M467.7 413.5h4.6 M470 411.2v4.6 M468.34 411.84l3.31 3.31 M468.34 415.16l3.31 -3.31M467.7 414.5h4.6 M470 412.2v4.6 M468.34 412.84l3.31 3.31 M468.34 416.16l3.31 -3.31M467.7 415.5h4.6 M470 413.2v4.6 M468.34 413.84l3.31 3.31 M468.34 417.16l3.31 -3.31M467.7 416.5h4.6 M470 414.2v4.6 M468.34 414.84l3.31 3.31 M468.34 418.16l3.31 -3.31M467.7 438h4.6 M470 435.7v4.6 M468.34 436.34l3.31 3.31 M468.34 439.66l3.31 -3.31M467.7 439h4.6 M470 436.7v4.6 M468.34 437.34l3.31 3.31 M468.34 440.66l3.31 -3.31M467.7 440h4.6 M470 437.7v4.6 M468.34 438.34l3.31 3.31 M468.34 441.66l3.31 -3.31M467.7 441h4.6 M470 438.7v4.6 M468.34 439.34l3.31 3.31 M468.34 442.66l3.31 -3.31M467.7 442h4.6 M470 439.7v4.6 M468.34 440.34l3.31 3.31 M468.34 443.66l3.31 -3.31M467.7 443h4.6 M470 440.7v4.6 M468.34 441.34l3.31 3.31 M468.34 444.66l3.31 -3.31M467.7 444h4.6 M470 441.7v4.6 M468.34 442.34l3.31 3.31 M468.34 445.66l3.31 -3.31M467.7 445h4.6 M470 442.7v4.6 M468.34 443.34l3.31 3.31 M468.34 446.66l3.31 -3.31M467.7 446h4.6 M470 443.7v4.6 M468.34 444.34l3.31 3.31 M468.34 447.66l3.31 -3.31M467.7 447h4.6 M470 444.7v4.6 M468.34 445.34l3.31 3.31 M468.34 448.66l3.31 -3.31M467.7 448h4.6 M470 445.7v4.6 M468.34 446.34l3.31 3.31 M468.34 449.66l3.31 -3.31M467.7 449h4.6 M470 446.7v4.6 M468.34 447.34l3.31 3.31 M468.34 450.66l3.31 -3.31M467.7 450h4.6 M470 447.7v4.6 M468.34 448.34l3.31 3.31 M468.34 451.66l3.31 -3.31M467.7 451h4.6 M470 448.7v4.6 M468.34 449.34l3.31 3.31 M468.34 452.66l3.31 -3.31M467.7 452h4.6 M470 449.7v4.6 M468.34 450.34l3.31 3.31 M468.34 453.66l3.31 -3.31M467.7 453h4.6 M470 450.7v4.6 M468.34 451.34l3.31 3.31 M468.34 454.66l3.31 -3.31M467.7 454h4.6 M470 451.7v4.6 M468.34 452.34l3.31 3.31 M468.34 455.66l3.31 -3.31M467.7 455h4.6 M470 452.7v4.6 M468.34 453.34l3.31 3.31 M468.34 456.66l3.31 -3.31M467.7 456h4.6 M470 453.7v4.6 M468.34 454.34l3.31 3.31 M468.34 457.66l3.31 -3.31M467.7 457h4.6 M470 454.7v4.6 M468.34 455.34l3.31 3.31 M468.34 458.66l3.31 -3.31M467.7 458h4.6 M470 455.7v4.6 M468.34 456.34l3.31 3.31 M468.34 459.66l3.31 -3.31M467.7 459h4.6 M470 456.7v4.6 M468.34 457.34l3.31 3.31 M468.34 460.66l3.31 -3.31M467.7 460h4.6 M470 457.7v4.6 M468.34 458.34l3.31 3.31 M468.34 461.66l3.31 -3.31M467.7 461h4.6 M470 458.7v4.6 M468.34 459.34l3.31 3.31 M468.34 462.66l3.31 -3.31M467.7 462h4.6 M470 459.7v4.6 M468.34 460.34l3.31 3.31 M468.34 463.66l3.31 -3.31M467.7 463h4.6 M470 460.7v4.6 M468.34 461.34l3.31 3.31 M468.34 464.66l3.31 -3.31M467.7 464h4.6 M470 461.7v4.6 M468.34 462.34l3.31 3.31 M468.34 465.66l3.31 -3.31M467.7 465h4.6 M470 462.7v4.6 M468.34 463.34l3.31 3.31 M468.34 466.66l3.31 -3.31M467.7 466h4.6 M470 463.7v4.6 M468.34 464.34l3.31 3.31 M468.34 467.66l3.31 -3.31M467.7 467h4.6 M470 464.7v4.6 M468.34 465.34l3.31 3.31 M468.34 468.66l3.31 -3.31M467.7 468h4.6 M470 465.7v4.6 M468.34 466.34l3.31 3.31 M468.34 469.66l3.31 -3.31M468.7 426.95h4.6 M471 424.65v4.6 M469.34 425.29l3.31 3.31 M469.34 428.61l3.31 -3.31M469.64 426.95h4.6 M471.94 424.65v4.6 M470.29 425.29l3.31 3.31 M470.29 428.61l3.31 -3.31M470.59 426.95h4.6 M472.89 424.65v4.6 M471.23 425.29l3.31 3.31 M471.23 428.61l3.31 -3.31M471.53 426.95h4.6 M473.83 424.65v4.6 M472.18 425.29l3.31 3.31 M472.18 428.61l3.31 -3.31M472.48 426.95h4.6 M474.78 424.65v4.6 M473.12 425.29l3.31 3.31 M473.12 428.61l3.31 -3.31M473.42 426.95h4.6 M475.72 424.65v4.6 M474.07 425.29l3.31 3.31 M474.07 428.61l3.31 -3.31M474.37 426.95h4.6 M476.67 424.65v4.6 M475.01 425.29l3.31 3.31 M475.01 428.61l3.31 -3.31M475.31 426.95h4.6 M477.61 424.65v4.6 M475.96 425.29l3.31 3.31 M475.96 428.61l3.31 -3.31M476.26 426.95h4.6 M478.56 424.65v4.6 M476.9 425.29l3.31 3.31 M476.9 428.61l3.31 -3.31M477.2 426.95h4.6 M479.5 424.65v4.6 M477.84 425.29l3.31 3.31 M477.84 428.61l3.31 -3.31M478.14 426.95h4.6 M480.44 424.65v4.6 M478.79 425.29l3.31 3.31 M478.79 428.61l3.31 -3.31M479.09 426.95h4.6 M481.39 424.65v4.6 M479.73 425.29l3.31 3.31 M479.73 428.61l3.31 -3.31M480.03 426.95h4.6 M482.33 424.65v4.6 M480.68 425.29l3.31 3.31 M480.68 428.61l3.31 -3.31M480.98 426.95h4.6 M483.28 424.65v4.6 M481.62 425.29l3.31 3.31 M481.62 428.61l3.31 -3.31M481.92 426.95h4.6 M484.22 424.65v4.6 M482.57 425.29l3.31 3.31 M482.57 428.61l3.31 -3.31M482.87 426.95h4.6 M485.17 424.65v4.6 M483.51 425.29l3.31 3.31 M483.51 428.61l3.31 -3.31M483.81 426.95h4.6 M486.11 424.65v4.6 M484.46 425.29l3.31 3.31 M484.46 428.61l3.31 -3.31M484.76 426.95h4.6 M487.06 424.65v4.6 M485.4 425.29l3.31 3.31 M485.4 428.61l3.31 -3.31M485.7 426.95h4.6 M488 424.65v4.6 M486.34 425.29l3.31 3.31 M486.34 428.61l3.31 -3.31M488.7 426.95h4.6 M491 424.65v4.6 M489.34 425.29l3.31 3.31 M489.34 428.61l3.31 -3.31M491.3 426.95h4.6 M493.6 424.65v4.6 M491.94 425.29l3.31 3.31 M491.94 428.61l3.31 -3.31M495 426.95h4.6 M497.3 424.65v4.6 M495.64 425.29l3.31 3.31 M495.64 428.61l3.31 -3.31M498.6 426.95h4.6 M500.9 424.65v4.6 M499.24 425.29l3.31 3.31 M499.24 428.61l3.31 -3.31M501.4 426.95h4.6 M503.7 424.65v4.6 M502.04 425.29l3.31 3.31 M502.04 428.61l3.31 -3.31M505.7 426.95h4.6 M508 424.65v4.6 M506.34 425.29l3.31 3.31 M506.34 428.61l3.31 -3.31M601.2 322h4.6 M603.5 319.7v4.6 M601.84 320.34l3.31 3.31 M601.84 323.66l3.31 -3.31M601.2 363.1h4.6 M603.5 360.8v4.6 M601.84 361.44l3.31 3.31 M601.84 364.76l3.31 -3.31M601.2 467.5h4.6 M603.5 465.2v4.6 M601.84 465.84l3.31 3.31 M601.84 469.16l3.31 -3.31M601.2 491h4.6 M603.5 488.7v4.6 M601.84 489.34l3.31 3.31 M601.84 492.66l3.31 -3.31M601.2 532.2h4.6 M603.5 529.9v4.6 M601.84 530.54l3.31 3.31 M601.84 533.86l3.31 -3.31M601.2 386h4.6 M603.5 383.7v4.6 M601.84 384.34l3.31 3.31 M601.84 387.66l3.31 -3.31M601.2 387.01h4.6 M603.5 384.71v4.6 M601.84 385.35l3.31 3.31 M601.84 388.66l3.31 -3.31M601.2 388.01h4.6 M603.5 385.71v4.6 M601.84 386.36l3.31 3.31 M601.84 389.67l3.31 -3.31M601.2 389.02h4.6 M603.5 386.72v4.6 M601.84 387.36l3.31 3.31 M601.84 390.68l3.31 -3.31M601.2 390.03h4.6 M603.5 387.73v4.6 M601.84 388.37l3.31 3.31 M601.84 391.68l3.31 -3.31M601.2 391.03h4.6 M603.5 388.73v4.6 M601.84 389.38l3.31 3.31 M601.84 392.69l3.31 -3.31M601.2 392.04h4.6 M603.5 389.74v4.6 M601.84 390.38l3.31 3.31 M601.84 393.69l3.31 -3.31M601.2 393.04h4.6 M603.5 390.74v4.6 M601.84 391.39l3.31 3.31 M601.84 394.7l3.31 -3.31M601.2 394.05h4.6 M603.5 391.75v4.6 M601.84 392.4l3.31 3.31 M601.84 395.71l3.31 -3.31M601.2 395.06h4.6 M603.5 392.76v4.6 M601.84 393.4l3.31 3.31 M601.84 396.71l3.31 -3.31M601.2 396.06h4.6 M603.5 393.76v4.6 M601.84 394.41l3.31 3.31 M601.84 397.72l3.31 -3.31M601.2 397.07h4.6 M603.5 394.77v4.6 M601.84 395.41l3.31 3.31 M601.84 398.73l3.31 -3.31M601.2 398.08h4.6 M603.5 395.78v4.6 M601.84 396.42l3.31 3.31 M601.84 399.73l3.31 -3.31M601.2 399.08h4.6 M603.5 396.78v4.6 M601.84 397.43l3.31 3.31 M601.84 400.74l3.31 -3.31M601.2 400.09h4.6 M603.5 397.79v4.6 M601.84 398.43l3.31 3.31 M601.84 401.75l3.31 -3.31M601.2 401.1h4.6 M603.5 398.8v4.6 M601.84 399.44l3.31 3.31 M601.84 402.75l3.31 -3.31M601.2 402.1h4.6 M603.5 399.8v4.6 M601.84 400.45l3.31 3.31 M601.84 403.76l3.31 -3.31M601.2 403.11h4.6 M603.5 400.81v4.6 M601.84 401.45l3.31 3.31 M601.84 404.76l3.31 -3.31M601.2 404.12h4.6 M603.5 401.82v4.6 M601.84 402.46l3.31 3.31 M601.84 405.77l3.31 -3.31M601.2 405.12h4.6 M603.5 402.82v4.6 M601.84 403.47l3.31 3.31 M601.84 406.78l3.31 -3.31M601.2 406.13h4.6 M603.5 403.83v4.6 M601.84 404.47l3.31 3.31 M601.84 407.78l3.31 -3.31M601.2 407.13h4.6 M603.5 404.83v4.6 M601.84 405.48l3.31 3.31 M601.84 408.79l3.31 -3.31M601.2 408.14h4.6 M603.5 405.84v4.6 M601.84 406.49l3.31 3.31 M601.84 409.8l3.31 -3.31M601.2 409.15h4.6 M603.5 406.85v4.6 M601.84 407.49l3.31 3.31 M601.84 410.8l3.31 -3.31M601.2 410.15h4.6 M603.5 407.85v4.6 M601.84 408.5l3.31 3.31 M601.84 411.81l3.31 -3.31M601.2 411.16h4.6 M603.5 408.86v4.6 M601.84 409.5l3.31 3.31 M601.84 412.82l3.31 -3.31M601.2 412.17h4.6 M603.5 409.87v4.6 M601.84 410.51l3.31 3.31 M601.84 413.82l3.31 -3.31M601.2 413.17h4.6 M603.5 410.87v4.6 M601.84 411.52l3.31 3.31 M601.84 414.83l3.31 -3.31M601.2 414.18h4.6 M603.5 411.88v4.6 M601.84 412.52l3.31 3.31 M601.84 415.84l3.31 -3.31M601.2 415.19h4.6 M603.5 412.89v4.6 M601.84 413.53l3.31 3.31 M601.84 416.84l3.31 -3.31M601.2 416.19h4.6 M603.5 413.89v4.6 M601.84 414.54l3.31 3.31 M601.84 417.85l3.31 -3.31M601.2 417.2h4.6 M603.5 414.9v4.6 M601.84 415.54l3.31 3.31 M601.84 418.85l3.31 -3.31M601.2 418.21h4.6 M603.5 415.91v4.6 M601.84 416.55l3.31 3.31 M601.84 419.86l3.31 -3.31M601.2 419.21h4.6 M603.5 416.91v4.6 M601.84 417.56l3.31 3.31 M601.84 420.87l3.31 -3.31M601.2 420.22h4.6 M603.5 417.92v4.6 M601.84 418.56l3.31 3.31 M601.84 421.87l3.31 -3.31M601.2 421.22h4.6 M603.5 418.92v4.6 M601.84 419.57l3.31 3.31 M601.84 422.88l3.31 -3.31M601.2 422.23h4.6 M603.5 419.93v4.6 M601.84 420.57l3.31 3.31 M601.84 423.89l3.31 -3.31M601.2 423.24h4.6 M603.5 420.94v4.6 M601.84 421.58l3.31 3.31 M601.84 424.89l3.31 -3.31M601.2 424.24h4.6 M603.5 421.94v4.6 M601.84 422.59l3.31 3.31 M601.84 425.9l3.31 -3.31M601.2 425.25h4.6 M603.5 422.95v4.6 M601.84 423.59l3.31 3.31 M601.84 426.91l3.31 -3.31M601.2 426.26h4.6 M603.5 423.96v4.6 M601.84 424.6l3.31 3.31 M601.84 427.91l3.31 -3.31M601.2 427.26h4.6 M603.5 424.96v4.6 M601.84 425.61l3.31 3.31 M601.84 428.92l3.31 -3.31M601.2 428.27h4.6 M603.5 425.97v4.6 M601.84 426.61l3.31 3.31 M601.84 429.93l3.31 -3.31M601.2 429.28h4.6 M603.5 426.98v4.6 M601.84 427.62l3.31 3.31 M601.84 430.93l3.31 -3.31M601.2 430.28h4.6 M603.5 427.98v4.6 M601.84 428.63l3.31 3.31 M601.84 431.94l3.31 -3.31M601.2 431.29h4.6 M603.5 428.99v4.6 M601.84 429.63l3.31 3.31 M601.84 432.94l3.31 -3.31M601.2 432.29h4.6 M603.5 429.99v4.6 M601.84 430.64l3.31 3.31 M601.84 433.95l3.31 -3.31M601.2 433.3h4.6 M603.5 431v4.6 M601.84 431.65l3.31 3.31 M601.84 434.96l3.31 -3.31M601.2 434.31h4.6 M603.5 432.01v4.6 M601.84 432.65l3.31 3.31 M601.84 435.96l3.31 -3.31M601.2 435.31h4.6 M603.5 433.01v4.6 M601.84 433.66l3.31 3.31 M601.84 436.97l3.31 -3.31M601.2 436.32h4.6 M603.5 434.02v4.6 M601.84 434.66l3.31 3.31 M601.84 437.98l3.31 -3.31M601.2 437.33h4.6 M603.5 435.03v4.6 M601.84 435.67l3.31 3.31 M601.84 438.98l3.31 -3.31M601.2 438.33h4.6 M603.5 436.03v4.6 M601.84 436.68l3.31 3.31 M601.84 439.99l3.31 -3.31M601.2 439.34h4.6 M603.5 437.04v4.6 M601.84 437.68l3.31 3.31 M601.84 441l3.31 -3.31M601.2 440.35h4.6 M603.5 438.05v4.6 M601.84 438.69l3.31 3.31 M601.84 442l3.31 -3.31M601.2 441.35h4.6 M603.5 439.05v4.6 M601.84 439.7l3.31 3.31 M601.84 443.01l3.31 -3.31M601.2 442.36h4.6 M603.5 440.06v4.6 M601.84 440.7l3.31 3.31 M601.84 444.01l3.31 -3.31M601.2 443.37h4.6 M603.5 441.07v4.6 M601.84 441.71l3.31 3.31 M601.84 445.02l3.31 -3.31M601.2 444.37h4.6 M603.5 442.07v4.6 M601.84 442.72l3.31 3.31 M601.84 446.03l3.31 -3.31M601.2 445.38h4.6 M603.5 443.08v4.6 M601.84 443.72l3.31 3.31 M601.84 447.03l3.31 -3.31M601.2 446.38h4.6 M603.5 444.08v4.6 M601.84 444.73l3.31 3.31 M601.84 448.04l3.31 -3.31M601.2 447.39h4.6 M603.5 445.09v4.6 M601.84 445.74l3.31 3.31 M601.84 449.05l3.31 -3.31M601.2 448.4h4.6 M603.5 446.1v4.6 M601.84 446.74l3.31 3.31 M601.84 450.05l3.31 -3.31M601.2 449.4h4.6 M603.5 447.1v4.6 M601.84 447.75l3.31 3.31 M601.84 451.06l3.31 -3.31M601.2 450.41h4.6 M603.5 448.11v4.6 M601.84 448.75l3.31 3.31 M601.84 452.07l3.31 -3.31M601.2 451.42h4.6 M603.5 449.12v4.6 M601.84 449.76l3.31 3.31 M601.84 453.07l3.31 -3.31M601.2 452.42h4.6 M603.5 450.12v4.6 M601.84 450.77l3.31 3.31 M601.84 454.08l3.31 -3.31M601.2 453.43h4.6 M603.5 451.13v4.6 M601.84 451.77l3.31 3.31 M601.84 455.09l3.31 -3.31M601.2 454.44h4.6 M603.5 452.14v4.6 M601.84 452.78l3.31 3.31 M601.84 456.09l3.31 -3.31M601.2 455.44h4.6 M603.5 453.14v4.6 M601.84 453.79l3.31 3.31 M601.84 457.1l3.31 -3.31M601.2 456.45h4.6 M603.5 454.15v4.6 M601.84 454.79l3.31 3.31 M601.84 458.1l3.31 -3.31M601.2 457.46h4.6 M603.5 455.16v4.6 M601.84 455.8l3.31 3.31 M601.84 459.11l3.31 -3.31M601.2 458.46h4.6 M603.5 456.16v4.6 M601.84 456.81l3.31 3.31 M601.84 460.12l3.31 -3.31M601.2 459.47h4.6 M603.5 457.17v4.6 M601.84 457.81l3.31 3.31 M601.84 461.12l3.31 -3.31M601.2 460.47h4.6 M603.5 458.17v4.6 M601.84 458.82l3.31 3.31 M601.84 462.13l3.31 -3.31M601.2 461.48h4.6 M603.5 459.18v4.6 M601.84 459.82l3.31 3.31 M601.84 463.14l3.31 -3.31M601.2 462.49h4.6 M603.5 460.19v4.6 M601.84 460.83l3.31 3.31 M601.84 464.14l3.31 -3.31M601.2 463.49h4.6 M603.5 461.19v4.6 M601.84 461.84l3.31 3.31 M601.84 465.15l3.31 -3.31M601.2 464.5h4.6 M603.5 462.2v4.6 M601.84 462.84l3.31 3.31 M601.84 466.16l3.31 -3.31M601.2 426.95h4.6 M603.5 424.65v4.6 M601.84 425.29l3.31 3.31 M601.84 428.61l3.31 -3.31M602.11 426.95h4.6 M604.41 424.65v4.6 M602.75 425.29l3.31 3.31 M602.75 428.61l3.31 -3.31M603.02 426.95h4.6 M605.32 424.65v4.6 M603.66 425.29l3.31 3.31 M603.66 428.61l3.31 -3.31M603.93 426.95h4.6 M606.23 424.65v4.6 M604.57 425.29l3.31 3.31 M604.57 428.61l3.31 -3.31M604.84 426.95h4.6 M607.14 424.65v4.6 M605.48 425.29l3.31 3.31 M605.48 428.61l3.31 -3.31M605.75 426.95h4.6 M608.05 424.65v4.6 M606.39 425.29l3.31 3.31 M606.39 428.61l3.31 -3.31M606.65 426.95h4.6 M608.95 424.65v4.6 M607.3 425.29l3.31 3.31 M607.3 428.61l3.31 -3.31M607.56 426.95h4.6 M609.86 424.65v4.6 M608.21 425.29l3.31 3.31 M608.21 428.61l3.31 -3.31M608.47 426.95h4.6 M610.77 424.65v4.6 M609.12 425.29l3.31 3.31 M609.12 428.61l3.31 -3.31M609.38 426.95h4.6 M611.68 424.65v4.6 M610.03 425.29l3.31 3.31 M610.03 428.61l3.31 -3.31M610.29 426.95h4.6 M612.59 424.65v4.6 M610.93 425.29l3.31 3.31 M610.93 428.61l3.31 -3.31M611.2 426.95h4.6 M613.5 424.65v4.6 M611.84 425.29l3.31 3.31 M611.84 428.61l3.31 -3.31M623.2 426.95h4.6 M625.5 424.65v4.6 M623.84 425.29l3.31 3.31 M623.84 428.61l3.31 -3.31M625.7 426.95h4.6 M628 424.65v4.6 M626.34 425.29l3.31 3.31 M626.34 428.61l3.31 -3.31M628.7 410.5h4.6 M631 408.2v4.6 M629.34 408.84l3.31 3.31 M629.34 412.16l3.31 -3.31M628.7 413h4.6 M631 410.7v4.6 M629.34 411.34l3.31 3.31 M629.34 414.66l3.31 -3.31M628.7 416h4.6 M631 413.7v4.6 M629.34 414.34l3.31 3.31 M629.34 417.66l3.31 -3.31M628.7 421.2h4.6 M631 418.9v4.6 M629.34 419.54l3.31 3.31 M629.34 422.86l3.31 -3.31M628.7 426.7h4.6 M631 424.4v4.6 M629.34 425.04l3.31 3.31 M629.34 428.36l3.31 -3.31M628.7 432.6h4.6 M631 430.3v4.6 M629.34 430.94l3.31 3.31 M629.34 434.26l3.31 -3.31M628.7 437.7h4.6 M631 435.4v4.6 M629.34 436.04l3.31 3.31 M629.34 439.36l3.31 -3.31M628.7 440h4.6 M631 437.7v4.6 M629.34 438.34l3.31 3.31 M629.34 441.66l3.31 -3.31" stroke="#0000ff" stroke-width="1.35" stroke-linecap="round" fill="none"/>
<path d="M31 627H313.7V849.4H31Z" fill="none" stroke="#222" stroke-width="1"/>
<path d="M31 849.4v-3.2 M31 627v3.2 M87.54 849.4v-3.2 M87.54 627v3.2 M144.08 849.4v-3.2 M144.08 627v3.2 M200.62 849.4v-3.2 M200.62 627v3.2 M257.16 849.4v-3.2 M257.16 627v3.2 M313.7 849.4v-3.2 M313.7 627v3.2 M31 627h3.2 M313.7 627h-3.2 M31 649.24h3.2 M313.7 649.24h-3.2 M31 671.48h3.2 M313.7 671.48h-3.2 M31 693.72h3.2 M313.7 693.72h-3.2 M31 715.96h3.2 M313.7 715.96h-3.2 M31 738.2h3.2 M313.7 738.2h-3.2 M31 760.44h3.2 M313.7 760.44h-3.2 M31 782.68h3.2 M313.7 782.68h-3.2 M31 804.92h3.2 M313.7 804.92h-3.2 M31 827.16h3.2 M313.7 827.16h-3.2 M31 849.4h3.2 M313.7 849.4h-3.2 " stroke="#222" stroke-width="1" fill="none"/>
<text class="t" transform="translate(31.8 859) scale(1 1)" text-anchor="middle">-1.0</text>
<text class="t" transform="translate(88.34 859) scale(1 1)" text-anchor="middle">-0.5</text>
<text class="t" transform="translate(144.88 859) scale(1 1)" text-anchor="middle">0</text>
<text class="t" transform="translate(201.42 859) scale(1 1)" text-anchor="middle">0.5</text>
<text class="t" transform="translate(257.96 859) scale(1 1)" text-anchor="middle">1.0</text>
<text class="t" transform="translate(314.5 859) scale(1 1)" text-anchor="middle">1.5</text>
<text class="t" transform="translate(28.1 628.35) scale(1 1)" text-anchor="end">0.5</text>
<text class="t" transform="translate(28.1 650.59) scale(1 1)" text-anchor="end">0.4</text>
<text class="t" transform="translate(28.1 672.83) scale(1 1)" text-anchor="end">0.3</text>
<text class="t" transform="translate(28.1 695.07) scale(1 1)" text-anchor="end">0.2</text>
<text class="t" transform="translate(28.1 717.31) scale(1 1)" text-anchor="end">0.1</text>
<text class="t" transform="translate(28.1 739.55) scale(1 1)" text-anchor="end">0</text>
<text class="t" transform="translate(28.1 761.79) scale(1 1)" text-anchor="end">-0.1</text>
<text class="t" transform="translate(28.1 784.03) scale(1 1)" text-anchor="end">-0.2</text>
<text class="t" transform="translate(28.1 806.27) scale(1 1)" text-anchor="end">-0.3</text>
<text class="t" transform="translate(28.1 828.51) scale(1 1)" text-anchor="end">-0.4</text>
<text class="t" transform="translate(28.1 850.75) scale(1 1)" text-anchor="end">-0.5</text>
<text class="lb" x="170.3" y="872" text-anchor="middle">Real</text>
<text class="lb" transform="translate(6.7 735) rotate(-90)" text-anchor="middle">Imaginary</text>
<path d="M198.5 629h4.6 M200.8 626.7v4.6 M199.14 627.34l3.31 3.31 M199.14 630.66l3.31 -3.31M198.5 629.8h4.6 M200.8 627.5v4.6 M199.14 628.14l3.31 3.31 M199.14 631.46l3.31 -3.31M198.5 630.6h4.6 M200.8 628.3v4.6 M199.14 628.94l3.31 3.31 M199.14 632.26l3.31 -3.31M198.5 631.4h4.6 M200.8 629.1v4.6 M199.14 629.74l3.31 3.31 M199.14 633.06l3.31 -3.31M198.5 632.2h4.6 M200.8 629.9v4.6 M199.14 630.54l3.31 3.31 M199.14 633.86l3.31 -3.31M198.5 633h4.6 M200.8 630.7v4.6 M199.14 631.34l3.31 3.31 M199.14 634.66l3.31 -3.31M198.5 633.8h4.6 M200.8 631.5v4.6 M199.14 632.14l3.31 3.31 M199.14 635.46l3.31 -3.31M198.5 634.6h4.6 M200.8 632.3v4.6 M199.14 632.94l3.31 3.31 M199.14 636.26l3.31 -3.31M198.5 635.4h4.6 M200.8 633.1v4.6 M199.14 633.74l3.31 3.31 M199.14 637.06l3.31 -3.31M198.5 636.2h4.6 M200.8 633.9v4.6 M199.14 634.54l3.31 3.31 M199.14 637.86l3.31 -3.31M198.5 637h4.6 M200.8 634.7v4.6 M199.14 635.34l3.31 3.31 M199.14 638.66l3.31 -3.31M198.5 637.8h4.6 M200.8 635.5v4.6 M199.14 636.14l3.31 3.31 M199.14 639.46l3.31 -3.31M198.5 638.6h4.6 M200.8 636.3v4.6 M199.14 636.94l3.31 3.31 M199.14 640.26l3.31 -3.31M198.5 639.4h4.6 M200.8 637.1v4.6 M199.14 637.74l3.31 3.31 M199.14 641.06l3.31 -3.31M198.5 640.2h4.6 M200.8 637.9v4.6 M199.14 638.54l3.31 3.31 M199.14 641.86l3.31 -3.31M198.5 641h4.6 M200.8 638.7v4.6 M199.14 639.34l3.31 3.31 M199.14 642.66l3.31 -3.31M198.5 641.8h4.6 M200.8 639.5v4.6 M199.14 640.14l3.31 3.31 M199.14 643.46l3.31 -3.31M198.5 642.6h4.6 M200.8 640.3v4.6 M199.14 640.94l3.31 3.31 M199.14 644.26l3.31 -3.31M198.5 643.4h4.6 M200.8 641.1v4.6 M199.14 641.74l3.31 3.31 M199.14 645.06l3.31 -3.31M198.5 644.2h4.6 M200.8 641.9v4.6 M199.14 642.54l3.31 3.31 M199.14 645.86l3.31 -3.31M198.5 645h4.6 M200.8 642.7v4.6 M199.14 643.34l3.31 3.31 M199.14 646.66l3.31 -3.31M198.5 645.8h4.6 M200.8 643.5v4.6 M199.14 644.14l3.31 3.31 M199.14 647.46l3.31 -3.31M198.5 646.6h4.6 M200.8 644.3v4.6 M199.14 644.94l3.31 3.31 M199.14 648.26l3.31 -3.31M198.5 647.4h4.6 M200.8 645.1v4.6 M199.14 645.74l3.31 3.31 M199.14 649.06l3.31 -3.31M198.5 648.2h4.6 M200.8 645.9v4.6 M199.14 646.54l3.31 3.31 M199.14 649.86l3.31 -3.31M198.5 649h4.6 M200.8 646.7v4.6 M199.14 647.34l3.31 3.31 M199.14 650.66l3.31 -3.31M198.5 649.8h4.6 M200.8 647.5v4.6 M199.14 648.14l3.31 3.31 M199.14 651.46l3.31 -3.31M198.5 650.6h4.6 M200.8 648.3v4.6 M199.14 648.94l3.31 3.31 M199.14 652.26l3.31 -3.31M198.5 651.4h4.6 M200.8 649.1v4.6 M199.14 649.74l3.31 3.31 M199.14 653.06l3.31 -3.31M198.5 652.2h4.6 M200.8 649.9v4.6 M199.14 650.54l3.31 3.31 M199.14 653.86l3.31 -3.31M198.5 653h4.6 M200.8 650.7v4.6 M199.14 651.34l3.31 3.31 M199.14 654.66l3.31 -3.31M198.5 653.8h4.6 M200.8 651.5v4.6 M199.14 652.14l3.31 3.31 M199.14 655.46l3.31 -3.31M198.5 654.6h4.6 M200.8 652.3v4.6 M199.14 652.94l3.31 3.31 M199.14 656.26l3.31 -3.31M198.5 655.4h4.6 M200.8 653.1v4.6 M199.14 653.74l3.31 3.31 M199.14 657.06l3.31 -3.31M198.5 656.2h4.6 M200.8 653.9v4.6 M199.14 654.54l3.31 3.31 M199.14 657.86l3.31 -3.31M198.5 657h4.6 M200.8 654.7v4.6 M199.14 655.34l3.31 3.31 M199.14 658.66l3.31 -3.31M198.5 660h4.6 M200.8 657.7v4.6 M199.14 658.34l3.31 3.31 M199.14 661.66l3.31 -3.31M198.5 663.4h4.6 M200.8 661.1v4.6 M199.14 661.74l3.31 3.31 M199.14 665.06l3.31 -3.31M198.5 666h4.6 M200.8 663.7v4.6 M199.14 664.34l3.31 3.31 M199.14 667.66l3.31 -3.31M198.5 672.6h4.6 M200.8 670.3v4.6 M199.14 670.94l3.31 3.31 M199.14 674.26l3.31 -3.31M198.5 680.2h4.6 M200.8 677.9v4.6 M199.14 678.54l3.31 3.31 M199.14 681.86l3.31 -3.31M198.5 691.6h4.6 M200.8 689.3v4.6 M199.14 689.94l3.31 3.31 M199.14 693.26l3.31 -3.31M198.5 699.9h4.6 M200.8 697.6v4.6 M199.14 698.24l3.31 3.31 M199.14 701.56l3.31 -3.31M198.5 776.5h4.6 M200.8 774.2v4.6 M199.14 774.84l3.31 3.31 M199.14 778.16l3.31 -3.31M198.5 784.7h4.6 M200.8 782.4v4.6 M199.14 783.04l3.31 3.31 M199.14 786.36l3.31 -3.31M198.5 796.5h4.6 M200.8 794.2v4.6 M199.14 794.84l3.31 3.31 M199.14 798.16l3.31 -3.31M198.5 804h4.6 M200.8 801.7v4.6 M199.14 802.34l3.31 3.31 M199.14 805.66l3.31 -3.31M198.5 809.5h4.6 M200.8 807.2v4.6 M199.14 807.84l3.31 3.31 M199.14 811.16l3.31 -3.31M198.5 811.6h4.6 M200.8 809.3v4.6 M199.14 809.94l3.31 3.31 M199.14 813.26l3.31 -3.31M198.5 818.5h4.6 M200.8 816.2v4.6 M199.14 816.84l3.31 3.31 M199.14 820.16l3.31 -3.31M198.5 819.31h4.6 M200.8 817.01v4.6 M199.14 817.66l3.31 3.31 M199.14 820.97l3.31 -3.31M198.5 820.13h4.6 M200.8 817.83v4.6 M199.14 818.47l3.31 3.31 M199.14 821.79l3.31 -3.31M198.5 820.94h4.6 M200.8 818.64v4.6 M199.14 819.29l3.31 3.31 M199.14 822.6l3.31 -3.31M198.5 821.76h4.6 M200.8 819.46v4.6 M199.14 820.1l3.31 3.31 M199.14 823.41l3.31 -3.31M198.5 822.57h4.6 M200.8 820.27v4.6 M199.14 820.92l3.31 3.31 M199.14 824.23l3.31 -3.31M198.5 823.39h4.6 M200.8 821.09v4.6 M199.14 821.73l3.31 3.31 M199.14 825.04l3.31 -3.31M198.5 824.2h4.6 M200.8 821.9v4.6 M199.14 822.55l3.31 3.31 M199.14 825.86l3.31 -3.31M198.5 825.02h4.6 M200.8 822.72v4.6 M199.14 823.36l3.31 3.31 M199.14 826.67l3.31 -3.31M198.5 825.83h4.6 M200.8 823.53v4.6 M199.14 824.18l3.31 3.31 M199.14 827.49l3.31 -3.31M198.5 826.65h4.6 M200.8 824.35v4.6 M199.14 824.99l3.31 3.31 M199.14 828.3l3.31 -3.31M198.5 827.46h4.6 M200.8 825.16v4.6 M199.14 825.81l3.31 3.31 M199.14 829.12l3.31 -3.31M198.5 828.28h4.6 M200.8 825.98v4.6 M199.14 826.62l3.31 3.31 M199.14 829.93l3.31 -3.31M198.5 829.09h4.6 M200.8 826.79v4.6 M199.14 827.44l3.31 3.31 M199.14 830.75l3.31 -3.31M198.5 829.91h4.6 M200.8 827.61v4.6 M199.14 828.25l3.31 3.31 M199.14 831.56l3.31 -3.31M198.5 830.72h4.6 M200.8 828.42v4.6 M199.14 829.06l3.31 3.31 M199.14 832.38l3.31 -3.31M198.5 831.54h4.6 M200.8 829.24v4.6 M199.14 829.88l3.31 3.31 M199.14 833.19l3.31 -3.31M198.5 832.35h4.6 M200.8 830.05v4.6 M199.14 830.69l3.31 3.31 M199.14 834.01l3.31 -3.31M198.5 833.16h4.6 M200.8 830.86v4.6 M199.14 831.51l3.31 3.31 M199.14 834.82l3.31 -3.31M198.5 833.98h4.6 M200.8 831.68v4.6 M199.14 832.32l3.31 3.31 M199.14 835.64l3.31 -3.31M198.5 834.79h4.6 M200.8 832.49v4.6 M199.14 833.14l3.31 3.31 M199.14 836.45l3.31 -3.31M198.5 835.61h4.6 M200.8 833.31v4.6 M199.14 833.95l3.31 3.31 M199.14 837.26l3.31 -3.31M198.5 836.42h4.6 M200.8 834.12v4.6 M199.14 834.77l3.31 3.31 M199.14 838.08l3.31 -3.31M198.5 837.24h4.6 M200.8 834.94v4.6 M199.14 835.58l3.31 3.31 M199.14 838.89l3.31 -3.31M198.5 838.05h4.6 M200.8 835.75v4.6 M199.14 836.4l3.31 3.31 M199.14 839.71l3.31 -3.31M198.5 838.87h4.6 M200.8 836.57v4.6 M199.14 837.21l3.31 3.31 M199.14 840.52l3.31 -3.31M198.5 839.68h4.6 M200.8 837.38v4.6 M199.14 838.03l3.31 3.31 M199.14 841.34l3.31 -3.31M198.5 840.5h4.6 M200.8 838.2v4.6 M199.14 838.84l3.31 3.31 M199.14 842.15l3.31 -3.31M198.5 841.31h4.6 M200.8 839.01v4.6 M199.14 839.66l3.31 3.31 M199.14 842.97l3.31 -3.31M198.5 842.13h4.6 M200.8 839.83v4.6 M199.14 840.47l3.31 3.31 M199.14 843.78l3.31 -3.31M198.5 842.94h4.6 M200.8 840.64v4.6 M199.14 841.29l3.31 3.31 M199.14 844.6l3.31 -3.31M198.5 843.76h4.6 M200.8 841.46v4.6 M199.14 842.1l3.31 3.31 M199.14 845.41l3.31 -3.31M198.5 844.57h4.6 M200.8 842.27v4.6 M199.14 842.91l3.31 3.31 M199.14 846.23l3.31 -3.31M198.5 845.39h4.6 M200.8 843.09v4.6 M199.14 843.73l3.31 3.31 M199.14 847.04l3.31 -3.31M198.5 846.2h4.6 M200.8 843.9v4.6 M199.14 844.54l3.31 3.31 M199.14 847.86l3.31 -3.31M33.9 738.2h4.6 M36.2 735.9v4.6 M34.54 736.54l3.31 3.31 M34.54 739.86l3.31 -3.31M185.6 738.2h4.6 M187.9 735.9v4.6 M186.24 736.54l3.31 3.31 M186.24 739.86l3.31 -3.31M211.2 738.2h4.6 M213.5 735.9v4.6 M211.84 736.54l3.31 3.31 M211.84 739.86l3.31 -3.31M249.3 738.2h4.6 M251.6 735.9v4.6 M249.94 736.54l3.31 3.31 M249.94 739.86l3.31 -3.31M255.2 738.2h4.6 M257.5 735.9v4.6 M255.84 736.54l3.31 3.31 M255.84 739.86l3.31 -3.31" stroke="#0000ff" stroke-width="1.35" stroke-linecap="round" fill="none"/>
<path d="M395.6 627H678.1V849.4H395.6Z" fill="none" stroke="#222" stroke-width="1"/>
<path d="M395.6 849.4v-3.2 M395.6 627v3.2 M452.1 849.4v-3.2 M452.1 627v3.2 M508.6 849.4v-3.2 M508.6 627v3.2 M565.1 849.4v-3.2 M565.1 627v3.2 M621.6 849.4v-3.2 M621.6 627v3.2 M678.1 849.4v-3.2 M678.1 627v3.2 M395.6 627h3.2 M678.1 627h-3.2 M395.6 664.07h3.2 M678.1 664.07h-3.2 M395.6 701.13h3.2 M678.1 701.13h-3.2 M395.6 738.2h3.2 M678.1 738.2h-3.2 M395.6 775.27h3.2 M678.1 775.27h-3.2 M395.6 812.33h3.2 M678.1 812.33h-3.2 M395.6 849.4h3.2 M678.1 849.4h-3.2 " stroke="#222" stroke-width="1" fill="none"/>
<text class="t" transform="translate(396.4 859) scale(1 1)" text-anchor="middle">-1.0</text>
<text class="t" transform="translate(452.9 859) scale(1 1)" text-anchor="middle">-0.5</text>
<text class="t" transform="translate(509.4 859) scale(1 1)" text-anchor="middle">0</text>
<text class="t" transform="translate(565.9 859) scale(1 1)" text-anchor="middle">0.5</text>
<text class="t" transform="translate(622.4 859) scale(1 1)" text-anchor="middle">1.0</text>
<text class="t" transform="translate(678.9 859) scale(1 1)" text-anchor="middle">1.5</text>
<text class="t" transform="translate(392.7 628.35) scale(1 1)" text-anchor="end">0.3</text>
<text class="t" transform="translate(392.7 665.42) scale(1 1)" text-anchor="end">0.2</text>
<text class="t" transform="translate(392.7 702.48) scale(1 1)" text-anchor="end">0.1</text>
<text class="t" transform="translate(392.7 739.55) scale(1 1)" text-anchor="end">0</text>
<text class="t" transform="translate(392.7 776.62) scale(1 1)" text-anchor="end">-0.1</text>
<text class="t" transform="translate(392.7 813.68) scale(1 1)" text-anchor="end">-0.2</text>
<text class="t" transform="translate(392.7 850.75) scale(1 1)" text-anchor="end">-0.3</text>
<text class="lb" x="536.3" y="872" text-anchor="middle">Real</text>
<text class="lb" transform="translate(373.4 735) rotate(-90)" text-anchor="middle">Imaginary</text>
<path d="M562.7 633.5h4.6 M565 631.2v4.6 M563.34 631.84l3.31 3.31 M563.34 635.16l3.31 -3.31M562.7 634.31h4.6 M565 632.01v4.6 M563.34 632.65l3.31 3.31 M563.34 635.96l3.31 -3.31M562.7 635.11h4.6 M565 632.81v4.6 M563.34 633.46l3.31 3.31 M563.34 636.77l3.31 -3.31M562.7 635.92h4.6 M565 633.62v4.6 M563.34 634.26l3.31 3.31 M563.34 637.57l3.31 -3.31M562.7 636.72h4.6 M565 634.42v4.6 M563.34 635.07l3.31 3.31 M563.34 638.38l3.31 -3.31M562.7 637.53h4.6 M565 635.23v4.6 M563.34 635.87l3.31 3.31 M563.34 639.18l3.31 -3.31M562.7 638.33h4.6 M565 636.03v4.6 M563.34 636.68l3.31 3.31 M563.34 639.99l3.31 -3.31M562.7 639.14h4.6 M565 636.84v4.6 M563.34 637.48l3.31 3.31 M563.34 640.79l3.31 -3.31M562.7 639.94h4.6 M565 637.64v4.6 M563.34 638.29l3.31 3.31 M563.34 641.6l3.31 -3.31M562.7 640.75h4.6 M565 638.45v4.6 M563.34 639.09l3.31 3.31 M563.34 642.41l3.31 -3.31M562.7 641.56h4.6 M565 639.26v4.6 M563.34 639.9l3.31 3.31 M563.34 643.21l3.31 -3.31M562.7 642.36h4.6 M565 640.06v4.6 M563.34 640.71l3.31 3.31 M563.34 644.02l3.31 -3.31M562.7 643.17h4.6 M565 640.87v4.6 M563.34 641.51l3.31 3.31 M563.34 644.82l3.31 -3.31M562.7 643.97h4.6 M565 641.67v4.6 M563.34 642.32l3.31 3.31 M563.34 645.63l3.31 -3.31M562.7 644.78h4.6 M565 642.48v4.6 M563.34 643.12l3.31 3.31 M563.34 646.43l3.31 -3.31M562.7 645.58h4.6 M565 643.28v4.6 M563.34 643.93l3.31 3.31 M563.34 647.24l3.31 -3.31M562.7 646.39h4.6 M565 644.09v4.6 M563.34 644.73l3.31 3.31 M563.34 648.04l3.31 -3.31M562.7 647.19h4.6 M565 644.89v4.6 M563.34 645.54l3.31 3.31 M563.34 648.85l3.31 -3.31M562.7 648h4.6 M565 645.7v4.6 M563.34 646.34l3.31 3.31 M563.34 649.66l3.31 -3.31M562.7 648.81h4.6 M565 646.51v4.6 M563.34 647.15l3.31 3.31 M563.34 650.46l3.31 -3.31M562.7 649.61h4.6 M565 647.31v4.6 M563.34 647.96l3.31 3.31 M563.34 651.27l3.31 -3.31M562.7 650.42h4.6 M565 648.12v4.6 M563.34 648.76l3.31 3.31 M563.34 652.07l3.31 -3.31M562.7 651.22h4.6 M565 648.92v4.6 M563.34 649.57l3.31 3.31 M563.34 652.88l3.31 -3.31M562.7 652.03h4.6 M565 649.73v4.6 M563.34 650.37l3.31 3.31 M563.34 653.68l3.31 -3.31M562.7 652.83h4.6 M565 650.53v4.6 M563.34 651.18l3.31 3.31 M563.34 654.49l3.31 -3.31M562.7 653.64h4.6 M565 651.34v4.6 M563.34 651.98l3.31 3.31 M563.34 655.29l3.31 -3.31M562.7 654.44h4.6 M565 652.14v4.6 M563.34 652.79l3.31 3.31 M563.34 656.1l3.31 -3.31M562.7 655.25h4.6 M565 652.95v4.6 M563.34 653.59l3.31 3.31 M563.34 656.91l3.31 -3.31M562.7 656.06h4.6 M565 653.76v4.6 M563.34 654.4l3.31 3.31 M563.34 657.71l3.31 -3.31M562.7 656.86h4.6 M565 654.56v4.6 M563.34 655.21l3.31 3.31 M563.34 658.52l3.31 -3.31M562.7 657.67h4.6 M565 655.37v4.6 M563.34 656.01l3.31 3.31 M563.34 659.32l3.31 -3.31M562.7 658.47h4.6 M565 656.17v4.6 M563.34 656.82l3.31 3.31 M563.34 660.13l3.31 -3.31M562.7 659.28h4.6 M565 656.98v4.6 M563.34 657.62l3.31 3.31 M563.34 660.93l3.31 -3.31M562.7 660.08h4.6 M565 657.78v4.6 M563.34 658.43l3.31 3.31 M563.34 661.74l3.31 -3.31M562.7 660.89h4.6 M565 658.59v4.6 M563.34 659.23l3.31 3.31 M563.34 662.54l3.31 -3.31M562.7 661.69h4.6 M565 659.39v4.6 M563.34 660.04l3.31 3.31 M563.34 663.35l3.31 -3.31M562.7 662.5h4.6 M565 660.2v4.6 M563.34 660.84l3.31 3.31 M563.34 664.16l3.31 -3.31M562.7 663.31h4.6 M565 661.01v4.6 M563.34 661.65l3.31 3.31 M563.34 664.96l3.31 -3.31M562.7 664.11h4.6 M565 661.81v4.6 M563.34 662.46l3.31 3.31 M563.34 665.77l3.31 -3.31M562.7 664.92h4.6 M565 662.62v4.6 M563.34 663.26l3.31 3.31 M563.34 666.57l3.31 -3.31M562.7 665.72h4.6 M565 663.42v4.6 M563.34 664.07l3.31 3.31 M563.34 667.38l3.31 -3.31M562.7 666.53h4.6 M565 664.23v4.6 M563.34 664.87l3.31 3.31 M563.34 668.18l3.31 -3.31M562.7 667.33h4.6 M565 665.03v4.6 M563.34 665.68l3.31 3.31 M563.34 668.99l3.31 -3.31M562.7 668.14h4.6 M565 665.84v4.6 M563.34 666.48l3.31 3.31 M563.34 669.79l3.31 -3.31M562.7 668.94h4.6 M565 666.64v4.6 M563.34 667.29l3.31 3.31 M563.34 670.6l3.31 -3.31M562.7 669.75h4.6 M565 667.45v4.6 M563.34 668.09l3.31 3.31 M563.34 671.41l3.31 -3.31M562.7 670.56h4.6 M565 668.26v4.6 M563.34 668.9l3.31 3.31 M563.34 672.21l3.31 -3.31M562.7 671.36h4.6 M565 669.06v4.6 M563.34 669.71l3.31 3.31 M563.34 673.02l3.31 -3.31M562.7 672.17h4.6 M565 669.87v4.6 M563.34 670.51l3.31 3.31 M563.34 673.82l3.31 -3.31M562.7 672.97h4.6 M565 670.67v4.6 M563.34 671.32l3.31 3.31 M563.34 674.63l3.31 -3.31M562.7 673.78h4.6 M565 671.48v4.6 M563.34 672.12l3.31 3.31 M563.34 675.43l3.31 -3.31M562.7 674.58h4.6 M565 672.28v4.6 M563.34 672.93l3.31 3.31 M563.34 676.24l3.31 -3.31M562.7 675.39h4.6 M565 673.09v4.6 M563.34 673.73l3.31 3.31 M563.34 677.04l3.31 -3.31M562.7 676.19h4.6 M565 673.89v4.6 M563.34 674.54l3.31 3.31 M563.34 677.85l3.31 -3.31M562.7 677h4.6 M565 674.7v4.6 M563.34 675.34l3.31 3.31 M563.34 678.66l3.31 -3.31M562.7 681h4.6 M565 678.7v4.6 M563.34 679.34l3.31 3.31 M563.34 682.66l3.31 -3.31M562.7 693.2h4.6 M565 690.9v4.6 M563.34 691.54l3.31 3.31 M563.34 694.86l3.31 -3.31M562.7 699.7h4.6 M565 697.4v4.6 M563.34 698.04l3.31 3.31 M563.34 701.36l3.31 -3.31M562.7 721.6h4.6 M565 719.3v4.6 M563.34 719.94l3.31 3.31 M563.34 723.26l3.31 -3.31M562.7 754.8h4.6 M565 752.5v4.6 M563.34 753.14l3.31 3.31 M563.34 756.46l3.31 -3.31M562.7 776.5h4.6 M565 774.2v4.6 M563.34 774.84l3.31 3.31 M563.34 778.16l3.31 -3.31M562.7 782.7h4.6 M565 780.4v4.6 M563.34 781.04l3.31 3.31 M563.34 784.36l3.31 -3.31M562.7 794.5h4.6 M565 792.2v4.6 M563.34 792.84l3.31 3.31 M563.34 796.16l3.31 -3.31M562.7 798.5h4.6 M565 796.2v4.6 M563.34 796.84l3.31 3.31 M563.34 800.16l3.31 -3.31M562.7 799.31h4.6 M565 797.01v4.6 M563.34 797.66l3.31 3.31 M563.34 800.97l3.31 -3.31M562.7 800.13h4.6 M565 797.83v4.6 M563.34 798.47l3.31 3.31 M563.34 801.78l3.31 -3.31M562.7 800.94h4.6 M565 798.64v4.6 M563.34 799.28l3.31 3.31 M563.34 802.59l3.31 -3.31M562.7 801.75h4.6 M565 799.45v4.6 M563.34 800.09l3.31 3.31 M563.34 803.41l3.31 -3.31M562.7 802.56h4.6 M565 800.26v4.6 M563.34 800.91l3.31 3.31 M563.34 804.22l3.31 -3.31M562.7 803.38h4.6 M565 801.08v4.6 M563.34 801.72l3.31 3.31 M563.34 805.03l3.31 -3.31M562.7 804.19h4.6 M565 801.89v4.6 M563.34 802.53l3.31 3.31 M563.34 805.85l3.31 -3.31M562.7 805h4.6 M565 802.7v4.6 M563.34 803.35l3.31 3.31 M563.34 806.66l3.31 -3.31M562.7 805.81h4.6 M565 803.51v4.6 M563.34 804.16l3.31 3.31 M563.34 807.47l3.31 -3.31M562.7 806.63h4.6 M565 804.33v4.6 M563.34 804.97l3.31 3.31 M563.34 808.28l3.31 -3.31M562.7 807.44h4.6 M565 805.14v4.6 M563.34 805.78l3.31 3.31 M563.34 809.1l3.31 -3.31M562.7 808.25h4.6 M565 805.95v4.6 M563.34 806.6l3.31 3.31 M563.34 809.91l3.31 -3.31M562.7 809.07h4.6 M565 806.77v4.6 M563.34 807.41l3.31 3.31 M563.34 810.72l3.31 -3.31M562.7 809.88h4.6 M565 807.58v4.6 M563.34 808.22l3.31 3.31 M563.34 811.53l3.31 -3.31M562.7 810.69h4.6 M565 808.39v4.6 M563.34 809.03l3.31 3.31 M563.34 812.35l3.31 -3.31M562.7 811.5h4.6 M565 809.2v4.6 M563.34 809.85l3.31 3.31 M563.34 813.16l3.31 -3.31M562.7 812.32h4.6 M565 810.02v4.6 M563.34 810.66l3.31 3.31 M563.34 813.97l3.31 -3.31M562.7 813.13h4.6 M565 810.83v4.6 M563.34 811.47l3.31 3.31 M563.34 814.79l3.31 -3.31M562.7 813.94h4.6 M565 811.64v4.6 M563.34 812.29l3.31 3.31 M563.34 815.6l3.31 -3.31M562.7 814.75h4.6 M565 812.45v4.6 M563.34 813.1l3.31 3.31 M563.34 816.41l3.31 -3.31M562.7 815.57h4.6 M565 813.27v4.6 M563.34 813.91l3.31 3.31 M563.34 817.22l3.31 -3.31M562.7 816.38h4.6 M565 814.08v4.6 M563.34 814.72l3.31 3.31 M563.34 818.04l3.31 -3.31M562.7 817.19h4.6 M565 814.89v4.6 M563.34 815.54l3.31 3.31 M563.34 818.85l3.31 -3.31M562.7 818.01h4.6 M565 815.71v4.6 M563.34 816.35l3.31 3.31 M563.34 819.66l3.31 -3.31M562.7 818.82h4.6 M565 816.52v4.6 M563.34 817.16l3.31 3.31 M563.34 820.47l3.31 -3.31M562.7 819.63h4.6 M565 817.33v4.6 M563.34 817.97l3.31 3.31 M563.34 821.29l3.31 -3.31M562.7 820.44h4.6 M565 818.14v4.6 M563.34 818.79l3.31 3.31 M563.34 822.1l3.31 -3.31M562.7 821.26h4.6 M565 818.96v4.6 M563.34 819.6l3.31 3.31 M563.34 822.91l3.31 -3.31M562.7 822.07h4.6 M565 819.77v4.6 M563.34 820.41l3.31 3.31 M563.34 823.73l3.31 -3.31M562.7 822.88h4.6 M565 820.58v4.6 M563.34 821.23l3.31 3.31 M563.34 824.54l3.31 -3.31M562.7 823.69h4.6 M565 821.39v4.6 M563.34 822.04l3.31 3.31 M563.34 825.35l3.31 -3.31M562.7 824.51h4.6 M565 822.21v4.6 M563.34 822.85l3.31 3.31 M563.34 826.16l3.31 -3.31M562.7 825.32h4.6 M565 823.02v4.6 M563.34 823.66l3.31 3.31 M563.34 826.98l3.31 -3.31M562.7 826.13h4.6 M565 823.83v4.6 M563.34 824.48l3.31 3.31 M563.34 827.79l3.31 -3.31M562.7 826.95h4.6 M565 824.65v4.6 M563.34 825.29l3.31 3.31 M563.34 828.6l3.31 -3.31M562.7 827.76h4.6 M565 825.46v4.6 M563.34 826.1l3.31 3.31 M563.34 829.41l3.31 -3.31M562.7 828.57h4.6 M565 826.27v4.6 M563.34 826.91l3.31 3.31 M563.34 830.23l3.31 -3.31M562.7 829.38h4.6 M565 827.08v4.6 M563.34 827.73l3.31 3.31 M563.34 831.04l3.31 -3.31M562.7 830.2h4.6 M565 827.9v4.6 M563.34 828.54l3.31 3.31 M563.34 831.85l3.31 -3.31M562.7 831.01h4.6 M565 828.71v4.6 M563.34 829.35l3.31 3.31 M563.34 832.67l3.31 -3.31M562.7 831.82h4.6 M565 829.52v4.6 M563.34 830.17l3.31 3.31 M563.34 833.48l3.31 -3.31M562.7 832.63h4.6 M565 830.33v4.6 M563.34 830.98l3.31 3.31 M563.34 834.29l3.31 -3.31M562.7 833.45h4.6 M565 831.15v4.6 M563.34 831.79l3.31 3.31 M563.34 835.1l3.31 -3.31M562.7 834.26h4.6 M565 831.96v4.6 M563.34 832.6l3.31 3.31 M563.34 835.92l3.31 -3.31M562.7 835.07h4.6 M565 832.77v4.6 M563.34 833.42l3.31 3.31 M563.34 836.73l3.31 -3.31M562.7 835.89h4.6 M565 833.59v4.6 M563.34 834.23l3.31 3.31 M563.34 837.54l3.31 -3.31M562.7 836.7h4.6 M565 834.4v4.6 M563.34 835.04l3.31 3.31 M563.34 838.35l3.31 -3.31M562.7 837.51h4.6 M565 835.21v4.6 M563.34 835.85l3.31 3.31 M563.34 839.17l3.31 -3.31M562.7 838.32h4.6 M565 836.02v4.6 M563.34 836.67l3.31 3.31 M563.34 839.98l3.31 -3.31M562.7 839.14h4.6 M565 836.84v4.6 M563.34 837.48l3.31 3.31 M563.34 840.79l3.31 -3.31M562.7 839.95h4.6 M565 837.65v4.6 M563.34 838.29l3.31 3.31 M563.34 841.61l3.31 -3.31M562.7 840.76h4.6 M565 838.46v4.6 M563.34 839.11l3.31 3.31 M563.34 842.42l3.31 -3.31M562.7 841.57h4.6 M565 839.27v4.6 M563.34 839.92l3.31 3.31 M563.34 843.23l3.31 -3.31M562.7 842.39h4.6 M565 840.09v4.6 M563.34 840.73l3.31 3.31 M563.34 844.04l3.31 -3.31M562.7 843.2h4.6 M565 840.9v4.6 M563.34 841.54l3.31 3.31 M563.34 844.86l3.31 -3.31M398.7 738.2h4.6 M401 735.9v4.6 M399.34 736.54l3.31 3.31 M399.34 739.86l3.31 -3.31M535.2 738.2h4.6 M537.5 735.9v4.6 M535.84 736.54l3.31 3.31 M535.84 739.86l3.31 -3.31M543.1 738.2h4.6 M545.4 735.9v4.6 M543.74 736.54l3.31 3.31 M543.74 739.86l3.31 -3.31M545.7 738.2h4.6 M548 735.9v4.6 M546.34 736.54l3.31 3.31 M546.34 739.86l3.31 -3.31M551.9 738.2h4.6 M554.2 735.9v4.6 M552.54 736.54l3.31 3.31 M552.54 739.86l3.31 -3.31M572.9 738.2h4.6 M575.2 735.9v4.6 M573.54 736.54l3.31 3.31 M573.54 739.86l3.31 -3.31M579 738.2h4.6 M581.3 735.9v4.6 M579.64 736.54l3.31 3.31 M579.64 739.86l3.31 -3.31M582.9 738.2h4.6 M585.2 735.9v4.6 M583.54 736.54l3.31 3.31 M583.54 739.86l3.31 -3.31M589.9 738.2h4.6 M592.2 735.9v4.6 M590.54 736.54l3.31 3.31 M590.54 739.86l3.31 -3.31M613.2 738.2h4.6 M615.5 735.9v4.6 M613.84 736.54l3.31 3.31 M613.84 739.86l3.31 -3.31M619.3 738.2h4.6 M621.6 735.9v4.6 M619.94 736.54l3.31 3.31 M619.94 739.86l3.31 -3.31" stroke="#0000ff" stroke-width="1.35" stroke-linecap="round" fill="none"/>
<path d="M31 937.8H313.7V1160.9H31Z" fill="none" stroke="#222" stroke-width="1"/>
<path d="M31 1160.9v-3.2 M31 937.8v3.2 M71.39 1160.9v-3.2 M71.39 937.8v3.2 M111.77 1160.9v-3.2 M111.77 937.8v3.2 M152.16 1160.9v-3.2 M152.16 937.8v3.2 M192.54 1160.9v-3.2 M192.54 937.8v3.2 M232.93 1160.9v-3.2 M232.93 937.8v3.2 M273.31 1160.9v-3.2 M273.31 937.8v3.2 M313.7 1160.9v-3.2 M313.7 937.8v3.2 M31 937.8h3.2 M313.7 937.8h-3.2 M31 965.69h3.2 M313.7 965.69h-3.2 M31 993.58h3.2 M313.7 993.58h-3.2 M31 1021.46h3.2 M313.7 1021.46h-3.2 M31 1049.35h3.2 M313.7 1049.35h-3.2 M31 1077.24h3.2 M313.7 1077.24h-3.2 M31 1105.12h3.2 M313.7 1105.12h-3.2 M31 1133.01h3.2 M313.7 1133.01h-3.2 M31 1160.9h3.2 M313.7 1160.9h-3.2 " stroke="#222" stroke-width="1" fill="none"/>
<text class="t" transform="translate(31.8 1170.1) scale(1 1)" text-anchor="middle">-0.2</text>
<text class="t" transform="translate(72.19 1170.1) scale(1 1)" text-anchor="middle">0</text>
<text class="t" transform="translate(112.57 1170.1) scale(1 1)" text-anchor="middle">0.2</text>
<text class="t" transform="translate(152.96 1170.1) scale(1 1)" text-anchor="middle">0.4</text>
<text class="t" transform="translate(193.34 1170.1) scale(1 1)" text-anchor="middle">0.6</text>
<text class="t" transform="translate(233.73 1170.1) scale(1 1)" text-anchor="middle">0.8</text>
<text class="t" transform="translate(274.11 1170.1) scale(1 1)" text-anchor="middle">1.0</text>
<text class="t" transform="translate(314.5 1170.1) scale(1 1)" text-anchor="middle">1.2</text>
<text class="t" transform="translate(28.1 939.15) scale(1 1)" text-anchor="end">0.4</text>
<text class="t" transform="translate(28.1 967.04) scale(1 1)" text-anchor="end">0.3</text>
<text class="t" transform="translate(28.1 994.93) scale(1 1)" text-anchor="end">0.2</text>
<text class="t" transform="translate(28.1 1022.81) scale(1 1)" text-anchor="end">0.1</text>
<text class="t" transform="translate(28.1 1050.7) scale(1 1)" text-anchor="end">0</text>
<text class="t" transform="translate(28.1 1078.59) scale(1 1)" text-anchor="end">-0.1</text>
<text class="t" transform="translate(28.1 1106.47) scale(1 1)" text-anchor="end">-0.2</text>
<text class="t" transform="translate(28.1 1134.36) scale(1 1)" text-anchor="end">-0.3</text>
<text class="t" transform="translate(28.1 1162.25) scale(1 1)" text-anchor="end">-0.4</text>
<text class="lb" x="170.3" y="1182" text-anchor="middle">Real</text>
<text class="lb" transform="translate(6.7 1045.2) rotate(-90)" text-anchor="middle">Imaginary</text>
<path d="M195.2 956.6h4.6 M197.5 954.3v4.6 M195.84 954.94l3.31 3.31 M195.84 958.26l3.31 -3.31M195.45 957.29h4.6 M197.75 954.99v4.6 M196.09 955.64l3.31 3.31 M196.09 958.95l3.31 -3.31M195.7 957.99h4.6 M198 955.69v4.6 M196.34 956.33l3.31 3.31 M196.34 959.64l3.31 -3.31M195.95 958.68h4.6 M198.25 956.38v4.6 M196.59 957.02l3.31 3.31 M196.59 960.33l3.31 -3.31M196.2 959.37h4.6 M198.5 957.07v4.6 M196.84 957.72l3.31 3.31 M196.84 961.03l3.31 -3.31M196.45 960.06h4.6 M198.75 957.76v4.6 M197.09 958.41l3.31 3.31 M197.09 961.72l3.31 -3.31M196.7 960.76h4.6 M199 958.46v4.6 M197.34 959.1l3.31 3.31 M197.34 962.41l3.31 -3.31M196.95 961.45h4.6 M199.25 959.15v4.6 M197.59 959.79l3.31 3.31 M197.59 963.11l3.31 -3.31M197.2 962.14h4.6 M199.5 959.84v4.6 M197.84 960.49l3.31 3.31 M197.84 963.8l3.31 -3.31M197.45 962.84h4.6 M199.75 960.54v4.6 M198.09 961.18l3.31 3.31 M198.09 964.49l3.31 -3.31M197.7 963.53h4.6 M200 961.23v4.6 M198.34 961.87l3.31 3.31 M198.34 965.18l3.31 -3.31M197.95 964.22h4.6 M200.25 961.92v4.6 M198.59 962.57l3.31 3.31 M198.59 965.88l3.31 -3.31M198.2 964.91h4.6 M200.5 962.61v4.6 M198.84 963.26l3.31 3.31 M198.84 966.57l3.31 -3.31M198.45 965.61h4.6 M200.75 963.31v4.6 M199.09 963.95l3.31 3.31 M199.09 967.26l3.31 -3.31M198.7 966.3h4.6 M201 964v4.6 M199.34 964.64l3.31 3.31 M199.34 967.96l3.31 -3.31M198.7 966.3h4.6 M201 964v4.6 M199.34 964.64l3.31 3.31 M199.34 967.96l3.31 -3.31M198.92 967.02h4.6 M201.22 964.73v4.6 M199.56 965.37l3.31 3.31 M199.56 968.68l3.31 -3.31M199.13 967.75h4.6 M201.43 965.45v4.6 M199.78 966.09l3.31 3.31 M199.78 969.41l3.31 -3.31M199.35 968.47h4.6 M201.65 966.17v4.6 M199.99 966.82l3.31 3.31 M199.99 970.13l3.31 -3.31M199.57 969.2h4.6 M201.87 966.9v4.6 M200.21 967.54l3.31 3.31 M200.21 970.86l3.31 -3.31M199.78 969.92h4.6 M202.08 967.62v4.6 M200.43 968.27l3.31 3.31 M200.43 971.58l3.31 -3.31M200 970.65h4.6 M202.3 968.35v4.6 M200.64 968.99l3.31 3.31 M200.64 972.31l3.31 -3.31M200.22 971.38h4.6 M202.52 969.08v4.6 M200.86 969.72l3.31 3.31 M200.86 973.03l3.31 -3.31M200.43 972.1h4.6 M202.73 969.8v4.6 M201.08 970.44l3.31 3.31 M201.08 973.76l3.31 -3.31M200.65 972.83h4.6 M202.95 970.53v4.6 M201.29 971.17l3.31 3.31 M201.29 974.48l3.31 -3.31M200.87 973.55h4.6 M203.17 971.25v4.6 M201.51 971.89l3.31 3.31 M201.51 975.21l3.31 -3.31M201.08 974.27h4.6 M203.38 971.98v4.6 M201.73 972.62l3.31 3.31 M201.73 975.93l3.31 -3.31M201.3 975h4.6 M203.6 972.7v4.6 M201.94 973.34l3.31 3.31 M201.94 976.66l3.31 -3.31M201.3 975h4.6 M203.6 972.7v4.6 M201.94 973.34l3.31 3.31 M201.94 976.66l3.31 -3.31M201.49 975.69h4.6 M203.79 973.39v4.6 M202.14 974.04l3.31 3.31 M202.14 977.35l3.31 -3.31M201.69 976.39h4.6 M203.99 974.09v4.6 M202.33 974.73l3.31 3.31 M202.33 978.04l3.31 -3.31M201.88 977.08h4.6 M204.18 974.78v4.6 M202.52 975.42l3.31 3.31 M202.52 978.73l3.31 -3.31M202.07 977.77h4.6 M204.37 975.47v4.6 M202.72 976.12l3.31 3.31 M202.72 979.43l3.31 -3.31M202.26 978.46h4.6 M204.56 976.16v4.6 M202.91 976.81l3.31 3.31 M202.91 980.12l3.31 -3.31M202.46 979.16h4.6 M204.76 976.86v4.6 M203.1 977.5l3.31 3.31 M203.1 980.81l3.31 -3.31M202.65 979.85h4.6 M204.95 977.55v4.6 M203.29 978.19l3.31 3.31 M203.29 981.51l3.31 -3.31M202.84 980.54h4.6 M205.14 978.24v4.6 M203.49 978.89l3.31 3.31 M203.49 982.2l3.31 -3.31M203.04 981.24h4.6 M205.34 978.94v4.6 M203.68 979.58l3.31 3.31 M203.68 982.89l3.31 -3.31M203.23 981.93h4.6 M205.53 979.63v4.6 M203.87 980.27l3.31 3.31 M203.87 983.58l3.31 -3.31M203.42 982.62h4.6 M205.72 980.32v4.6 M204.07 980.97l3.31 3.31 M204.07 984.28l3.31 -3.31M203.61 983.31h4.6 M205.91 981.01v4.6 M204.26 981.66l3.31 3.31 M204.26 984.97l3.31 -3.31M203.81 984.01h4.6 M206.11 981.71v4.6 M204.45 982.35l3.31 3.31 M204.45 985.66l3.31 -3.31M204 984.7h4.6 M206.3 982.4v4.6 M204.64 983.04l3.31 3.31 M204.64 986.36l3.31 -3.31M204 984.7h4.6 M206.3 982.4v4.6 M204.64 983.04l3.31 3.31 M204.64 986.36l3.31 -3.31M204.44 986.44h4.6 M206.74 984.14v4.6 M205.08 984.78l3.31 3.31 M205.08 988.1l3.31 -3.31M204.88 988.18h4.6 M207.18 985.88v4.6 M205.52 986.52l3.31 3.31 M205.52 989.84l3.31 -3.31M205.32 989.92h4.6 M207.62 987.62v4.6 M205.96 988.26l3.31 3.31 M205.96 991.58l3.31 -3.31M205.76 991.66h4.6 M208.06 989.36v4.6 M206.4 990l3.31 3.31 M206.4 993.32l3.31 -3.31M206.2 993.4h4.6 M208.5 991.1v4.6 M206.84 991.74l3.31 3.31 M206.84 995.06l3.31 -3.31M208.8 1007.6h4.6 M211.1 1005.3v4.6 M209.44 1005.94l3.31 3.31 M209.44 1009.26l3.31 -3.31M195.2 1142.1h4.6 M197.5 1139.8v4.6 M195.84 1140.44l3.31 3.31 M195.84 1143.76l3.31 -3.31M195.45 1141.41h4.6 M197.75 1139.11v4.6 M196.09 1139.75l3.31 3.31 M196.09 1143.06l3.31 -3.31M195.7 1140.71h4.6 M198 1138.41v4.6 M196.34 1139.06l3.31 3.31 M196.34 1142.37l3.31 -3.31M195.95 1140.02h4.6 M198.25 1137.72v4.6 M196.59 1138.37l3.31 3.31 M196.59 1141.68l3.31 -3.31M196.2 1139.33h4.6 M198.5 1137.03v4.6 M196.84 1137.67l3.31 3.31 M196.84 1140.98l3.31 -3.31M196.45 1138.64h4.6 M198.75 1136.34v4.6 M197.09 1136.98l3.31 3.31 M197.09 1140.29l3.31 -3.31M196.7 1137.94h4.6 M199 1135.64v4.6 M197.34 1136.29l3.31 3.31 M197.34 1139.6l3.31 -3.31M196.95 1137.25h4.6 M199.25 1134.95v4.6 M197.59 1135.59l3.31 3.31 M197.59 1138.91l3.31 -3.31M197.2 1136.56h4.6 M199.5 1134.26v4.6 M197.84 1134.9l3.31 3.31 M197.84 1138.21l3.31 -3.31M197.45 1135.86h4.6 M199.75 1133.56v4.6 M198.09 1134.21l3.31 3.31 M198.09 1137.52l3.31 -3.31M197.7 1135.17h4.6 M200 1132.87v4.6 M198.34 1133.52l3.31 3.31 M198.34 1136.83l3.31 -3.31M197.95 1134.48h4.6 M200.25 1132.18v4.6 M198.59 1132.82l3.31 3.31 M198.59 1136.13l3.31 -3.31M198.2 1133.79h4.6 M200.5 1131.49v4.6 M198.84 1132.13l3.31 3.31 M198.84 1135.44l3.31 -3.31M198.45 1133.09h4.6 M200.75 1130.79v4.6 M199.09 1131.44l3.31 3.31 M199.09 1134.75l3.31 -3.31M198.7 1132.4h4.6 M201 1130.1v4.6 M199.34 1130.74l3.31 3.31 M199.34 1134.06l3.31 -3.31M198.7 1132.4h4.6 M201 1130.1v4.6 M199.34 1130.74l3.31 3.31 M199.34 1134.06l3.31 -3.31M198.92 1131.67h4.6 M201.22 1129.37v4.6 M199.56 1130.02l3.31 3.31 M199.56 1133.33l3.31 -3.31M199.13 1130.95h4.6 M201.43 1128.65v4.6 M199.78 1129.29l3.31 3.31 M199.78 1132.61l3.31 -3.31M199.35 1130.22h4.6 M201.65 1127.92v4.6 M199.99 1128.57l3.31 3.31 M199.99 1131.88l3.31 -3.31M199.57 1129.5h4.6 M201.87 1127.2v4.6 M200.21 1127.84l3.31 3.31 M200.21 1131.16l3.31 -3.31M199.78 1128.77h4.6 M202.08 1126.47v4.6 M200.43 1127.12l3.31 3.31 M200.43 1130.43l3.31 -3.31M200 1128.05h4.6 M202.3 1125.75v4.6 M200.64 1126.39l3.31 3.31 M200.64 1129.71l3.31 -3.31M200.22 1127.32h4.6 M202.52 1125.02v4.6 M200.86 1125.67l3.31 3.31 M200.86 1128.98l3.31 -3.31M200.43 1126.6h4.6 M202.73 1124.3v4.6 M201.08 1124.94l3.31 3.31 M201.08 1128.26l3.31 -3.31M200.65 1125.87h4.6 M202.95 1123.57v4.6 M201.29 1124.22l3.31 3.31 M201.29 1127.53l3.31 -3.31M200.87 1125.15h4.6 M203.17 1122.85v4.6 M201.51 1123.49l3.31 3.31 M201.51 1126.81l3.31 -3.31M201.08 1124.42h4.6 M203.38 1122.12v4.6 M201.73 1122.77l3.31 3.31 M201.73 1126.08l3.31 -3.31M201.3 1123.7h4.6 M203.6 1121.4v4.6 M201.94 1122.04l3.31 3.31 M201.94 1125.36l3.31 -3.31M201.3 1123.7h4.6 M203.6 1121.4v4.6 M201.94 1122.04l3.31 3.31 M201.94 1125.36l3.31 -3.31M201.49 1123.01h4.6 M203.79 1120.71v4.6 M202.14 1121.35l3.31 3.31 M202.14 1124.66l3.31 -3.31M201.69 1122.31h4.6 M203.99 1120.01v4.6 M202.33 1120.66l3.31 3.31 M202.33 1123.97l3.31 -3.31M201.88 1121.62h4.6 M204.18 1119.32v4.6 M202.52 1119.97l3.31 3.31 M202.52 1123.28l3.31 -3.31M202.07 1120.93h4.6 M204.37 1118.63v4.6 M202.72 1119.27l3.31 3.31 M202.72 1122.58l3.31 -3.31M202.26 1120.24h4.6 M204.56 1117.94v4.6 M202.91 1118.58l3.31 3.31 M202.91 1121.89l3.31 -3.31M202.46 1119.54h4.6 M204.76 1117.24v4.6 M203.1 1117.89l3.31 3.31 M203.1 1121.2l3.31 -3.31M202.65 1118.85h4.6 M204.95 1116.55v4.6 M203.29 1117.19l3.31 3.31 M203.29 1120.51l3.31 -3.31M202.84 1118.16h4.6 M205.14 1115.86v4.6 M203.49 1116.5l3.31 3.31 M203.49 1119.81l3.31 -3.31M203.04 1117.46h4.6 M205.34 1115.16v4.6 M203.68 1115.81l3.31 3.31 M203.68 1119.12l3.31 -3.31M203.23 1116.77h4.6 M205.53 1114.47v4.6 M203.87 1115.12l3.31 3.31 M203.87 1118.43l3.31 -3.31M203.42 1116.08h4.6 M205.72 1113.78v4.6 M204.07 1114.42l3.31 3.31 M204.07 1117.73l3.31 -3.31M203.61 1115.39h4.6 M205.91 1113.09v4.6 M204.26 1113.73l3.31 3.31 M204.26 1117.04l3.31 -3.31M203.81 1114.69h4.6 M206.11 1112.39v4.6 M204.45 1113.04l3.31 3.31 M204.45 1116.35l3.31 -3.31M204 1114h4.6 M206.3 1111.7v4.6 M204.64 1112.34l3.31 3.31 M204.64 1115.66l3.31 -3.31M204 1114h4.6 M206.3 1111.7v4.6 M204.64 1112.34l3.31 3.31 M204.64 1115.66l3.31 -3.31M204.44 1112.26h4.6 M206.74 1109.96v4.6 M205.08 1110.6l3.31 3.31 M205.08 1113.92l3.31 -3.31M204.88 1110.52h4.6 M207.18 1108.22v4.6 M205.52 1108.86l3.31 3.31 M205.52 1112.18l3.31 -3.31M205.32 1108.78h4.6 M207.62 1106.48v4.6 M205.96 1107.12l3.31 3.31 M205.96 1110.44l3.31 -3.31M205.76 1107.04h4.6 M208.06 1104.74v4.6 M206.4 1105.38l3.31 3.31 M206.4 1108.7l3.31 -3.31M206.2 1105.3h4.6 M208.5 1103v4.6 M206.84 1103.64l3.31 3.31 M206.84 1106.96l3.31 -3.31M208.8 1091.1h4.6 M211.1 1088.8v4.6 M209.44 1089.44l3.31 3.31 M209.44 1092.76l3.31 -3.31M58.8 1049.35h4.6 M61.1 1047.05v4.6 M59.44 1047.69l3.31 3.31 M59.44 1051.01l3.31 -3.31M175.7 1049.35h4.6 M178 1047.05v4.6 M176.34 1047.69l3.31 3.31 M176.34 1051.01l3.31 -3.31M271.3 1049.35h4.6 M273.6 1047.05v4.6 M271.94 1047.69l3.31 3.31 M271.94 1051.01l3.31 -3.31" stroke="#0000ff" stroke-width="1.35" stroke-linecap="round" fill="none"/>
<path d="M395.6 937.8H678.1V1160.9H395.6Z" fill="none" stroke="#222" stroke-width="1"/>
<path d="M395.6 1160.9v-3.2 M395.6 937.8v3.2 M442.68 1160.9v-3.2 M442.68 937.8v3.2 M489.77 1160.9v-3.2 M489.77 937.8v3.2 M536.85 1160.9v-3.2 M536.85 937.8v3.2 M583.93 1160.9v-3.2 M583.93 937.8v3.2 M631.02 1160.9v-3.2 M631.02 937.8v3.2 M678.1 1160.9v-3.2 M678.1 937.8v3.2 M395.6 937.8h3.2 M678.1 937.8h-3.2 M395.6 974.98h3.2 M678.1 974.98h-3.2 M395.6 1012.17h3.2 M678.1 1012.17h-3.2 M395.6 1049.35h3.2 M678.1 1049.35h-3.2 M395.6 1086.53h3.2 M678.1 1086.53h-3.2 M395.6 1123.72h3.2 M678.1 1123.72h-3.2 M395.6 1160.9h3.2 M678.1 1160.9h-3.2 " stroke="#222" stroke-width="1" fill="none"/>
<text class="t" transform="translate(396.4 1170.1) scale(1 1)" text-anchor="middle">-1.0</text>
<text class="t" transform="translate(443.48 1170.1) scale(1 1)" text-anchor="middle">-0.8</text>
<text class="t" transform="translate(490.57 1170.1) scale(1 1)" text-anchor="middle">-0.6</text>
<text class="t" transform="translate(537.65 1170.1) scale(1 1)" text-anchor="middle">-0.4</text>
<text class="t" transform="translate(584.73 1170.1) scale(1 1)" text-anchor="middle">-0.2</text>
<text class="t" transform="translate(631.82 1170.1) scale(1 1)" text-anchor="middle">0</text>
<text class="t" transform="translate(678.9 1170.1) scale(1 1)" text-anchor="middle">0.2</text>
<text class="t" transform="translate(392.7 939.15) scale(1 1)" text-anchor="end">1.5</text>
<text class="t" transform="translate(392.7 976.33) scale(1 1)" text-anchor="end">1.0</text>
<text class="t" transform="translate(392.7 1013.52) scale(1 1)" text-anchor="end">0.5</text>
<text class="t" transform="translate(392.7 1050.7) scale(1 1)" text-anchor="end">0</text>
<text class="t" transform="translate(392.7 1087.88) scale(1 1)" text-anchor="end">-0.5</text>
<text class="t" transform="translate(392.7 1125.07) scale(1 1)" text-anchor="end">-1.0</text>
<text class="t" transform="translate(392.7 1162.25) scale(1 1)" text-anchor="end">-1.5</text>
<text class="lb" x="538.4" y="1182" text-anchor="middle">Real</text>
<text class="lb" transform="translate(375.2 1045.2) rotate(-90)" text-anchor="middle">Imaginary</text>
<text class="t" x="396.2" y="935" style="font-size:11px">×</text>
<text class="t" transform="translate(403.1 933.8) scale(1 1)">10</text>
<text class="t" x="412.7" y="929.1" style="font-size:7px">-4</text>
<path d="M631.6 952.3h4.6 M633.9 950v4.6 M632.24 950.64l3.31 3.31 M632.24 953.96l3.31 -3.31M631.6 953.12h4.6 M633.9 950.82v4.6 M632.24 951.46l3.31 3.31 M632.24 954.78l3.31 -3.31M631.6 953.94h4.6 M633.9 951.64v4.6 M632.24 952.29l3.31 3.31 M632.24 955.6l3.31 -3.31M631.6 954.76h4.6 M633.9 952.46v4.6 M632.24 953.11l3.31 3.31 M632.24 956.42l3.31 -3.31M631.6 955.58h4.6 M633.9 953.28v4.6 M632.24 953.93l3.31 3.31 M632.24 957.24l3.31 -3.31M631.6 956.4h4.6 M633.9 954.1v4.6 M632.24 954.75l3.31 3.31 M632.24 958.06l3.31 -3.31M631.6 957.22h4.6 M633.9 954.92v4.6 M632.24 955.57l3.31 3.31 M632.24 958.88l3.31 -3.31M631.6 958.05h4.6 M633.9 955.75v4.6 M632.24 956.39l3.31 3.31 M632.24 959.7l3.31 -3.31M631.6 958.87h4.6 M633.9 956.57v4.6 M632.24 957.21l3.31 3.31 M632.24 960.52l3.31 -3.31M631.6 959.69h4.6 M633.9 957.39v4.6 M632.24 958.03l3.31 3.31 M632.24 961.34l3.31 -3.31M631.6 960.51h4.6 M633.9 958.21v4.6 M632.24 958.85l3.31 3.31 M632.24 962.16l3.31 -3.31M631.6 961.33h4.6 M633.9 959.03v4.6 M632.24 959.67l3.31 3.31 M632.24 962.99l3.31 -3.31M631.6 962.15h4.6 M633.9 959.85v4.6 M632.24 960.49l3.31 3.31 M632.24 963.81l3.31 -3.31M631.6 962.97h4.6 M633.9 960.67v4.6 M632.24 961.31l3.31 3.31 M632.24 964.63l3.31 -3.31M631.6 963.79h4.6 M633.9 961.49v4.6 M632.24 962.14l3.31 3.31 M632.24 965.45l3.31 -3.31M631.6 964.61h4.6 M633.9 962.31v4.6 M632.24 962.96l3.31 3.31 M632.24 966.27l3.31 -3.31M631.6 965.43h4.6 M633.9 963.13v4.6 M632.24 963.78l3.31 3.31 M632.24 967.09l3.31 -3.31M631.6 966.25h4.6 M633.9 963.95v4.6 M632.24 964.6l3.31 3.31 M632.24 967.91l3.31 -3.31M631.6 967.08h4.6 M633.9 964.78v4.6 M632.24 965.42l3.31 3.31 M632.24 968.73l3.31 -3.31M631.6 967.9h4.6 M633.9 965.6v4.6 M632.24 966.24l3.31 3.31 M632.24 969.55l3.31 -3.31M631.6 968.72h4.6 M633.9 966.42v4.6 M632.24 967.06l3.31 3.31 M632.24 970.37l3.31 -3.31M631.6 969.54h4.6 M633.9 967.24v4.6 M632.24 967.88l3.31 3.31 M632.24 971.19l3.31 -3.31M631.6 970.36h4.6 M633.9 968.06v4.6 M632.24 968.7l3.31 3.31 M632.24 972.01l3.31 -3.31M631.6 971.18h4.6 M633.9 968.88v4.6 M632.24 969.52l3.31 3.31 M632.24 972.84l3.31 -3.31M631.6 972h4.6 M633.9 969.7v4.6 M632.24 970.34l3.31 3.31 M632.24 973.66l3.31 -3.31M631.6 974h4.6 M633.9 971.7v4.6 M632.24 972.34l3.31 3.31 M632.24 975.66l3.31 -3.31M631.6 975.75h4.6 M633.9 973.45v4.6 M632.24 974.09l3.31 3.31 M632.24 977.41l3.31 -3.31M631.6 977.5h4.6 M633.9 975.2v4.6 M632.24 975.84l3.31 3.31 M632.24 979.16l3.31 -3.31M631.6 979.25h4.6 M633.9 976.95v4.6 M632.24 977.59l3.31 3.31 M632.24 980.91l3.31 -3.31M631.6 981h4.6 M633.9 978.7v4.6 M632.24 979.34l3.31 3.31 M632.24 982.66l3.31 -3.31M631.6 982.75h4.6 M633.9 980.45v4.6 M632.24 981.09l3.31 3.31 M632.24 984.41l3.31 -3.31M631.6 984.5h4.6 M633.9 982.2v4.6 M632.24 982.84l3.31 3.31 M632.24 986.16l3.31 -3.31M631.6 987.8h4.6 M633.9 985.5v4.6 M632.24 986.14l3.31 3.31 M632.24 989.46l3.31 -3.31M631.6 997.5h4.6 M633.9 995.2v4.6 M632.24 995.84l3.31 3.31 M632.24 999.16l3.31 -3.31M631.6 1003.8h4.6 M633.9 1001.5v4.6 M632.24 1002.14l3.31 3.31 M632.24 1005.46l3.31 -3.31M631.6 1029h4.6 M633.9 1026.7v4.6 M632.24 1027.34l3.31 3.31 M632.24 1030.66l3.31 -3.31M631.6 1049.35h4.6 M633.9 1047.05v4.6 M632.24 1047.69l3.31 3.31 M632.24 1051.01l3.31 -3.31M631.6 1069.4h4.6 M633.9 1067.1v4.6 M632.24 1067.74l3.31 3.31 M632.24 1071.06l3.31 -3.31M631.6 1094.7h4.6 M633.9 1092.4v4.6 M632.24 1093.04l3.31 3.31 M632.24 1096.36l3.31 -3.31M631.6 1100.7h4.6 M633.9 1098.4v4.6 M632.24 1099.04l3.31 3.31 M632.24 1102.36l3.31 -3.31M631.6 1110.1h4.6 M633.9 1107.8v4.6 M632.24 1108.44l3.31 3.31 M632.24 1111.76l3.31 -3.31M631.6 1114h4.6 M633.9 1111.7v4.6 M632.24 1112.34l3.31 3.31 M632.24 1115.66l3.31 -3.31M631.6 1115.67h4.6 M633.9 1113.37v4.6 M632.24 1114.01l3.31 3.31 M632.24 1117.32l3.31 -3.31M631.6 1117.33h4.6 M633.9 1115.03v4.6 M632.24 1115.68l3.31 3.31 M632.24 1118.99l3.31 -3.31M631.6 1119h4.6 M633.9 1116.7v4.6 M632.24 1117.34l3.31 3.31 M632.24 1120.66l3.31 -3.31M631.6 1120.67h4.6 M633.9 1118.37v4.6 M632.24 1119.01l3.31 3.31 M632.24 1122.32l3.31 -3.31M631.6 1122.33h4.6 M633.9 1120.03v4.6 M632.24 1120.68l3.31 3.31 M632.24 1123.99l3.31 -3.31M631.6 1124h4.6 M633.9 1121.7v4.6 M632.24 1122.34l3.31 3.31 M632.24 1125.66l3.31 -3.31M631.6 1126h4.6 M633.9 1123.7v4.6 M632.24 1124.34l3.31 3.31 M632.24 1127.66l3.31 -3.31M631.6 1126.82h4.6 M633.9 1124.52v4.6 M632.24 1125.16l3.31 3.31 M632.24 1128.48l3.31 -3.31M631.6 1127.64h4.6 M633.9 1125.34v4.6 M632.24 1125.98l3.31 3.31 M632.24 1129.3l3.31 -3.31M631.6 1128.46h4.6 M633.9 1126.16v4.6 M632.24 1126.8l3.31 3.31 M632.24 1130.12l3.31 -3.31M631.6 1129.28h4.6 M633.9 1126.98v4.6 M632.24 1127.62l3.31 3.31 M632.24 1130.94l3.31 -3.31M631.6 1130.1h4.6 M633.9 1127.8v4.6 M632.24 1128.44l3.31 3.31 M632.24 1131.76l3.31 -3.31M631.6 1130.92h4.6 M633.9 1128.62v4.6 M632.24 1129.26l3.31 3.31 M632.24 1132.58l3.31 -3.31M631.6 1131.74h4.6 M633.9 1129.44v4.6 M632.24 1130.08l3.31 3.31 M632.24 1133.4l3.31 -3.31M631.6 1132.56h4.6 M633.9 1130.26v4.6 M632.24 1130.9l3.31 3.31 M632.24 1134.22l3.31 -3.31M631.6 1133.38h4.6 M633.9 1131.08v4.6 M632.24 1131.72l3.31 3.31 M632.24 1135.04l3.31 -3.31M631.6 1134.2h4.6 M633.9 1131.9v4.6 M632.24 1132.54l3.31 3.31 M632.24 1135.86l3.31 -3.31M631.6 1135.02h4.6 M633.9 1132.72v4.6 M632.24 1133.36l3.31 3.31 M632.24 1136.68l3.31 -3.31M631.6 1135.84h4.6 M633.9 1133.54v4.6 M632.24 1134.18l3.31 3.31 M632.24 1137.5l3.31 -3.31M631.6 1136.66h4.6 M633.9 1134.36v4.6 M632.24 1135l3.31 3.31 M632.24 1138.32l3.31 -3.31M631.6 1137.48h4.6 M633.9 1135.18v4.6 M632.24 1135.82l3.31 3.31 M632.24 1139.14l3.31 -3.31M631.6 1138.3h4.6 M633.9 1136v4.6 M632.24 1136.64l3.31 3.31 M632.24 1139.96l3.31 -3.31M631.6 1139.12h4.6 M633.9 1136.82v4.6 M632.24 1137.46l3.31 3.31 M632.24 1140.78l3.31 -3.31M631.6 1139.94h4.6 M633.9 1137.64v4.6 M632.24 1138.28l3.31 3.31 M632.24 1141.6l3.31 -3.31M631.6 1140.76h4.6 M633.9 1138.46v4.6 M632.24 1139.1l3.31 3.31 M632.24 1142.42l3.31 -3.31M631.6 1141.58h4.6 M633.9 1139.28v4.6 M632.24 1139.92l3.31 3.31 M632.24 1143.24l3.31 -3.31M631.6 1142.4h4.6 M633.9 1140.1v4.6 M632.24 1140.74l3.31 3.31 M632.24 1144.06l3.31 -3.31M631.6 1143.22h4.6 M633.9 1140.92v4.6 M632.24 1141.56l3.31 3.31 M632.24 1144.88l3.31 -3.31M631.6 1144.04h4.6 M633.9 1141.74v4.6 M632.24 1142.38l3.31 3.31 M632.24 1145.7l3.31 -3.31M631.6 1144.86h4.6 M633.9 1142.56v4.6 M632.24 1143.2l3.31 3.31 M632.24 1146.52l3.31 -3.31M631.6 1145.68h4.6 M633.9 1143.38v4.6 M632.24 1144.02l3.31 3.31 M632.24 1147.34l3.31 -3.31M631.6 1146.5h4.6 M633.9 1144.2v4.6 M632.24 1144.84l3.31 3.31 M632.24 1148.16l3.31 -3.31M396.3 1049.35h4.6 M398.6 1047.05v4.6 M396.94 1047.69l3.31 3.31 M396.94 1051.01l3.31 -3.31" stroke="#0000ff" stroke-width="1.35" stroke-linecap="round" fill="none"/>
<text x="320.08" y="285.8" style="font-family:'Liberation Serif',serif;font-size:23px" fill="#000">(a)</text>
<text x="354.14" y="285.8" style="font-family:'Latin Modern Math','DejaVu Math TeX Gyre','Liberation Serif',serif;font-size:21.5px;stroke:#000;stroke-width:0.45" fill="#000">𝒜</text>
<text x="122.88" y="595.9" style="font-family:'Liberation Serif',serif;font-size:23px" fill="#000">(b)</text>
<text x="158.96" y="595.7" style="font-family:'Libertinus Math','STIX Two Math','DejaVu Math TeX Gyre','Liberation Serif',serif;font-size:23.5px" fill="#000">𝒫</text>
<text x="182.03" y="589.7" style="font-family:'Liberation Serif',serif;font-size:21.5px" fill="#000">−</text>
<text x="194.64" y="586" style="font-family:'Liberation Serif',serif;font-size:14px" fill="#000">1</text>
<text x="182.25" y="601.4" style="font-family:'Liberation Serif',serif;font-size:15.3px" fill="#000" textLength="11.4" lengthAdjust="spacingAndGlyphs"><tspan style="font-style:italic">D</tspan></text>
<text x="204.24" y="595.9" style="font-family:'Latin Modern Math','DejaVu Math TeX Gyre','Liberation Serif',serif;font-size:21.5px;stroke:#000;stroke-width:0.45" fill="#000">𝒜</text>
<text x="472.48" y="595.9" style="font-family:'Liberation Serif',serif;font-size:23px" fill="#000">(c)</text>
<text x="506.16" y="595.7" style="font-family:'Libertinus Math','STIX Two Math','DejaVu Math TeX Gyre','Liberation Serif',serif;font-size:23.5px" fill="#000">𝒫</text>
<text x="529.02" y="589.7" style="font-family:'Liberation Serif',serif;font-size:21.5px" fill="#000">−</text>
<text x="541.04" y="586" style="font-family:'Liberation Serif',serif;font-size:14px" fill="#000">1</text>
<text x="526.73" y="601.4" style="font-family:'Liberation Serif',serif;font-size:15.3px" fill="#000" textLength="17.4" lengthAdjust="spacingAndGlyphs"><tspan style="font-style:italic">T</tspan><tspan>1</tspan></text>
<text x="550.64" y="595.9" style="font-family:'Latin Modern Math','DejaVu Math TeX Gyre','Liberation Serif',serif;font-size:21.5px;stroke:#000;stroke-width:0.45" fill="#000">𝒜</text>
<text x="121.38" y="906.8" style="font-family:'Liberation Serif',serif;font-size:23px" fill="#000">(d)</text>
<text x="157.66" y="906.6" style="font-family:'Libertinus Math','STIX Two Math','DejaVu Math TeX Gyre','Liberation Serif',serif;font-size:23.5px" fill="#000">𝒫</text>
<text x="180.53" y="900.6" style="font-family:'Liberation Serif',serif;font-size:21.5px" fill="#000">−</text>
<text x="192.64" y="896.9" style="font-family:'Liberation Serif',serif;font-size:14px" fill="#000">1</text>
<text x="178.23" y="912.3" style="font-family:'Liberation Serif',serif;font-size:15.3px" fill="#000" textLength="19.8" lengthAdjust="spacingAndGlyphs"><tspan style="font-style:italic">T</tspan><tspan>2</tspan></text>
<text x="202.14" y="906.8" style="font-family:'Latin Modern Math','DejaVu Math TeX Gyre','Liberation Serif',serif;font-size:21.5px;stroke:#000;stroke-width:0.45" fill="#000">𝒜</text>
<text x="470.48" y="906.8" style="font-family:'Liberation Serif',serif;font-size:23px" fill="#000">(e)</text>
<text x="504.56" y="906.6" style="font-family:'Libertinus Math','STIX Two Math','DejaVu Math TeX Gyre','Liberation Serif',serif;font-size:23.5px" fill="#000">𝒫</text>
<text x="527.02" y="900.6" style="font-family:'Liberation Serif',serif;font-size:21.5px" fill="#000">−</text>
<text x="539.84" y="896.9" style="font-family:'Liberation Serif',serif;font-size:14px" fill="#000">1</text>
<text x="525.43" y="912.3" style="font-family:'Liberation Serif',serif;font-size:15.3px" fill="#000" textLength="24.6" lengthAdjust="spacingAndGlyphs"><tspan style="font-style:italic">W</tspan><tspan>1</tspan></text>
<text x="551.74" y="906.8" style="font-family:'Latin Modern Math','DejaVu Math TeX Gyre','Liberation Serif',serif;font-size:21.5px;stroke:#000;stroke-width:0.45" fill="#000">𝒜</text>
<text x="114.88" y="1217.8" style="font-family:'Liberation Serif',serif;font-size:23px" fill="#000">(f)</text>
<text x="139.76" y="1217.6" style="font-family:'Libertinus Math','STIX Two Math','DejaVu Math TeX Gyre','Liberation Serif',serif;font-size:23.5px" fill="#000">𝒫</text>
<text x="162.53" y="1211.6" style="font-family:'Liberation Serif',serif;font-size:21.5px" fill="#000">−</text>
<text x="175.44" y="1207.9" style="font-family:'Liberation Serif',serif;font-size:14px" fill="#000">1</text>
<text x="160.23" y="1223.3" style="font-family:'Liberation Serif',serif;font-size:15.3px" fill="#000" textLength="26" lengthAdjust="spacingAndGlyphs"><tspan style="font-style:italic">W</tspan><tspan>2</tspan></text>
<text x="187.34" y="1217.8" style="font-family:'Latin Modern Math','DejaVu Math TeX Gyre','Liberation Serif',serif;font-size:21.5px;stroke:#000;stroke-width:0.45" fill="#000">𝒜</text>
<text x="456.38" y="1217.8" style="font-family:'Liberation Serif',serif;font-size:23px" fill="#000">(g)</text>
<text x="491.16" y="1217.6" style="font-family:'Libertinus Math','STIX Two Math','DejaVu Math TeX Gyre','Liberation Serif',serif;font-size:23.5px" fill="#000">𝒫</text>
<text x="514.12" y="1211.6" style="font-family:'Liberation Serif',serif;font-size:21.5px" fill="#000">−</text>
<text x="528.24" y="1207.9" style="font-family:'Liberation Serif',serif;font-size:14px" fill="#000">1</text>
<text x="514 527.1 540" y="1223.1" style="font-family:'Liberation Serif',serif;font-size:15.3px" fill="#000">PAB</text>
<text x="551.74" y="1217.8" style="font-family:'Latin Modern Math','DejaVu Math TeX Gyre','Liberation Serif',serif;font-size:21.5px;stroke:#000;stroke-width:0.45" fill="#000">𝒜</text>
</g>
</svg>
</body></html>
